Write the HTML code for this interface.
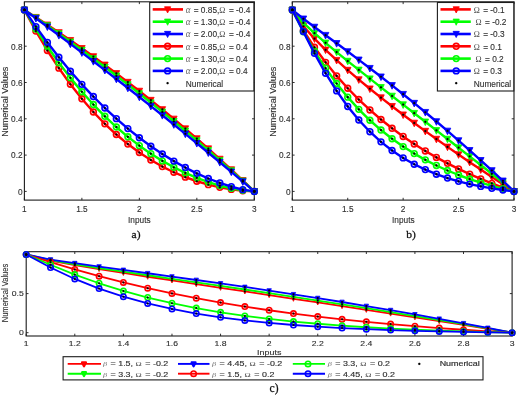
<!DOCTYPE html>
<html><head><meta charset="utf-8"><title>Figure</title>
<style>html,body{margin:0;padding:0;background:#fff}svg{display:block}</style></head>
<body>
<svg width="520" height="396" viewBox="0 0 520 396" font-family="'Liberation Sans',Arial,sans-serif" fill="#303030" stroke="#303030" stroke-width="0.12">
<rect width="520" height="396" fill="#fff" stroke="none"/>
<defs><filter id="soft" x="0" y="0" width="100%" height="100%" filterUnits="userSpaceOnUse" color-interpolation-filters="sRGB"><feGaussianBlur stdDeviation="0.38"/></filter></defs>
<g filter="url(#soft)">
<rect x="24.40" y="1.80" width="229.90" height="198.30" fill="#fff" stroke="#1c1c1c" stroke-width="1.1"/>
<path d="M24.40 200.10v-2.30M24.40 1.80v2.30" stroke="#1c1c1c" stroke-width="0.9"/>
<text transform="translate(24.40,211.70) scale(1.000,1.120)" font-size="8.30" text-anchor="middle">1</text>
<path d="M81.88 200.10v-2.30M81.88 1.80v2.30" stroke="#1c1c1c" stroke-width="0.9"/>
<text transform="translate(81.88,211.70) scale(1.000,1.120)" font-size="8.30" text-anchor="middle">1.5</text>
<path d="M139.35 200.10v-2.30M139.35 1.80v2.30" stroke="#1c1c1c" stroke-width="0.9"/>
<text transform="translate(139.35,211.70) scale(1.000,1.120)" font-size="8.30" text-anchor="middle">2</text>
<path d="M196.83 200.10v-2.30M196.83 1.80v2.30" stroke="#1c1c1c" stroke-width="0.9"/>
<text transform="translate(196.83,211.70) scale(1.000,1.120)" font-size="8.30" text-anchor="middle">2.5</text>
<path d="M254.30 200.10v-2.30M254.30 1.80v2.30" stroke="#1c1c1c" stroke-width="0.9"/>
<text transform="translate(254.30,211.70) scale(1.000,1.120)" font-size="8.30" text-anchor="middle">3</text>
<path d="M24.40 191.40h2.30M254.30 191.40h-2.30" stroke="#1c1c1c" stroke-width="0.9"/>
<text transform="translate(22.60,194.70) scale(1.000,1.120)" font-size="8.30" text-anchor="end">0</text>
<path d="M24.40 155.10h2.30M254.30 155.10h-2.30" stroke="#1c1c1c" stroke-width="0.9"/>
<text transform="translate(22.60,158.40) scale(1.000,1.120)" font-size="8.30" text-anchor="end">0.2</text>
<path d="M24.40 118.80h2.30M254.30 118.80h-2.30" stroke="#1c1c1c" stroke-width="0.9"/>
<text transform="translate(22.60,122.10) scale(1.000,1.120)" font-size="8.30" text-anchor="end">0.4</text>
<path d="M24.40 82.50h2.30M254.30 82.50h-2.30" stroke="#1c1c1c" stroke-width="0.9"/>
<text transform="translate(22.60,85.80) scale(1.000,1.120)" font-size="8.30" text-anchor="end">0.6</text>
<path d="M24.40 46.20h2.30M254.30 46.20h-2.30" stroke="#1c1c1c" stroke-width="0.9"/>
<text transform="translate(22.60,49.50) scale(1.000,1.120)" font-size="8.30" text-anchor="end">0.8</text>
<polyline fill="none" stroke="#ff0000" stroke-width="2.40" stroke-linejoin="round" points="24.40,9.90 35.89,17.26 47.39,24.78 58.88,32.45 70.38,40.30 81.88,48.31 93.37,56.49 104.87,64.85 116.36,73.39 127.85,82.12 139.35,91.03 150.84,100.13 162.34,109.43 173.84,118.93 185.33,128.64 196.83,138.55 208.32,148.67 219.81,159.02 231.31,169.58 242.81,180.37 254.30,191.40"/>
<path d="M21.10 7.10L27.70 7.10L24.40 13.70Z" fill="#ff0000" stroke="#ff0000" stroke-width="0.8" stroke-linejoin="round"/>
<path d="M32.59 14.45L39.19 14.45L35.89 21.05Z" fill="#ff0000" stroke="#ff0000" stroke-width="0.8" stroke-linejoin="round"/>
<path d="M44.09 21.97L50.69 21.97L47.39 28.57Z" fill="#ff0000" stroke="#ff0000" stroke-width="0.8" stroke-linejoin="round"/>
<path d="M55.59 29.65L62.18 29.65L58.88 36.25Z" fill="#ff0000" stroke="#ff0000" stroke-width="0.8" stroke-linejoin="round"/>
<path d="M67.08 37.49L73.68 37.49L70.38 44.09Z" fill="#ff0000" stroke="#ff0000" stroke-width="0.8" stroke-linejoin="round"/>
<path d="M78.58 45.50L85.17 45.50L81.88 52.10Z" fill="#ff0000" stroke="#ff0000" stroke-width="0.8" stroke-linejoin="round"/>
<path d="M90.07 53.69L96.67 53.69L93.37 60.29Z" fill="#ff0000" stroke="#ff0000" stroke-width="0.8" stroke-linejoin="round"/>
<path d="M101.57 62.05L108.17 62.05L104.87 68.65Z" fill="#ff0000" stroke="#ff0000" stroke-width="0.8" stroke-linejoin="round"/>
<path d="M113.06 70.59L119.66 70.59L116.36 77.19Z" fill="#ff0000" stroke="#ff0000" stroke-width="0.8" stroke-linejoin="round"/>
<path d="M124.55 79.31L131.16 79.31L127.85 85.91Z" fill="#ff0000" stroke="#ff0000" stroke-width="0.8" stroke-linejoin="round"/>
<path d="M136.05 88.23L142.65 88.23L139.35 94.83Z" fill="#ff0000" stroke="#ff0000" stroke-width="0.8" stroke-linejoin="round"/>
<path d="M147.54 97.33L154.15 97.33L150.84 103.93Z" fill="#ff0000" stroke="#ff0000" stroke-width="0.8" stroke-linejoin="round"/>
<path d="M159.04 106.63L165.64 106.63L162.34 113.23Z" fill="#ff0000" stroke="#ff0000" stroke-width="0.8" stroke-linejoin="round"/>
<path d="M170.53 116.13L177.14 116.13L173.84 122.73Z" fill="#ff0000" stroke="#ff0000" stroke-width="0.8" stroke-linejoin="round"/>
<path d="M182.03 125.83L188.63 125.83L185.33 132.43Z" fill="#ff0000" stroke="#ff0000" stroke-width="0.8" stroke-linejoin="round"/>
<path d="M193.53 135.74L200.13 135.74L196.83 142.34Z" fill="#ff0000" stroke="#ff0000" stroke-width="0.8" stroke-linejoin="round"/>
<path d="M205.02 145.87L211.62 145.87L208.32 152.47Z" fill="#ff0000" stroke="#ff0000" stroke-width="0.8" stroke-linejoin="round"/>
<path d="M216.51 156.21L223.12 156.21L219.81 162.81Z" fill="#ff0000" stroke="#ff0000" stroke-width="0.8" stroke-linejoin="round"/>
<path d="M228.01 166.78L234.61 166.78L231.31 173.38Z" fill="#ff0000" stroke="#ff0000" stroke-width="0.8" stroke-linejoin="round"/>
<path d="M239.50 177.57L246.11 177.57L242.81 184.17Z" fill="#ff0000" stroke="#ff0000" stroke-width="0.8" stroke-linejoin="round"/>
<path d="M251.00 188.59L257.60 188.59L254.30 195.19Z" fill="#ff0000" stroke="#ff0000" stroke-width="0.8" stroke-linejoin="round"/>
<polyline fill="none" stroke="#00ff00" stroke-width="2.40" stroke-linejoin="round" points="24.40,9.90 35.89,17.69 47.39,25.60 58.88,33.64 70.38,41.81 81.88,50.10 93.37,58.53 104.87,67.08 116.36,75.78 127.85,84.60 139.35,93.57 150.84,102.68 162.34,111.93 173.84,121.33 185.33,130.88 196.83,140.58 208.32,150.43 219.81,160.43 231.31,170.59 242.81,180.91 254.30,191.40"/>
<path d="M21.10 7.10L27.70 7.10L24.40 13.70Z" fill="#00ff00" stroke="#00ff00" stroke-width="0.8" stroke-linejoin="round"/>
<path d="M32.59 14.89L39.19 14.89L35.89 21.49Z" fill="#00ff00" stroke="#00ff00" stroke-width="0.8" stroke-linejoin="round"/>
<path d="M44.09 22.80L50.69 22.80L47.39 29.40Z" fill="#00ff00" stroke="#00ff00" stroke-width="0.8" stroke-linejoin="round"/>
<path d="M55.59 30.84L62.18 30.84L58.88 37.44Z" fill="#00ff00" stroke="#00ff00" stroke-width="0.8" stroke-linejoin="round"/>
<path d="M67.08 39.00L73.68 39.00L70.38 45.60Z" fill="#00ff00" stroke="#00ff00" stroke-width="0.8" stroke-linejoin="round"/>
<path d="M78.58 47.30L85.17 47.30L81.88 53.90Z" fill="#00ff00" stroke="#00ff00" stroke-width="0.8" stroke-linejoin="round"/>
<path d="M90.07 55.72L96.67 55.72L93.37 62.32Z" fill="#00ff00" stroke="#00ff00" stroke-width="0.8" stroke-linejoin="round"/>
<path d="M101.57 64.28L108.17 64.28L104.87 70.88Z" fill="#00ff00" stroke="#00ff00" stroke-width="0.8" stroke-linejoin="round"/>
<path d="M113.06 72.97L119.66 72.97L116.36 79.57Z" fill="#00ff00" stroke="#00ff00" stroke-width="0.8" stroke-linejoin="round"/>
<path d="M124.55 81.80L131.16 81.80L127.85 88.40Z" fill="#00ff00" stroke="#00ff00" stroke-width="0.8" stroke-linejoin="round"/>
<path d="M136.05 90.77L142.65 90.77L139.35 97.37Z" fill="#00ff00" stroke="#00ff00" stroke-width="0.8" stroke-linejoin="round"/>
<path d="M147.54 99.88L154.15 99.88L150.84 106.48Z" fill="#00ff00" stroke="#00ff00" stroke-width="0.8" stroke-linejoin="round"/>
<path d="M159.04 109.13L165.64 109.13L162.34 115.73Z" fill="#00ff00" stroke="#00ff00" stroke-width="0.8" stroke-linejoin="round"/>
<path d="M170.53 118.53L177.14 118.53L173.84 125.13Z" fill="#00ff00" stroke="#00ff00" stroke-width="0.8" stroke-linejoin="round"/>
<path d="M182.03 128.07L188.63 128.07L185.33 134.67Z" fill="#00ff00" stroke="#00ff00" stroke-width="0.8" stroke-linejoin="round"/>
<path d="M193.53 137.77L200.13 137.77L196.83 144.37Z" fill="#00ff00" stroke="#00ff00" stroke-width="0.8" stroke-linejoin="round"/>
<path d="M205.02 147.62L211.62 147.62L208.32 154.22Z" fill="#00ff00" stroke="#00ff00" stroke-width="0.8" stroke-linejoin="round"/>
<path d="M216.51 157.63L223.12 157.63L219.81 164.23Z" fill="#00ff00" stroke="#00ff00" stroke-width="0.8" stroke-linejoin="round"/>
<path d="M228.01 167.79L234.61 167.79L231.31 174.39Z" fill="#00ff00" stroke="#00ff00" stroke-width="0.8" stroke-linejoin="round"/>
<path d="M239.50 178.11L246.11 178.11L242.81 184.71Z" fill="#00ff00" stroke="#00ff00" stroke-width="0.8" stroke-linejoin="round"/>
<path d="M251.00 188.59L257.60 188.59L254.30 195.19Z" fill="#00ff00" stroke="#00ff00" stroke-width="0.8" stroke-linejoin="round"/>
<polyline fill="none" stroke="#0000ff" stroke-width="2.40" stroke-linejoin="round" points="24.40,9.90 35.89,18.30 47.39,26.77 58.88,35.31 70.38,43.91 81.88,52.59 93.37,61.33 104.87,70.15 116.36,79.04 127.85,87.99 139.35,97.02 150.84,106.12 162.34,115.30 173.84,124.55 185.33,133.87 196.83,143.27 208.32,152.74 219.81,162.29 231.31,171.92 242.81,181.62 254.30,191.40"/>
<path d="M21.10 7.10L27.70 7.10L24.40 13.70Z" fill="#0000ff" stroke="#0000ff" stroke-width="0.8" stroke-linejoin="round"/>
<path d="M32.59 15.50L39.19 15.50L35.89 22.10Z" fill="#0000ff" stroke="#0000ff" stroke-width="0.8" stroke-linejoin="round"/>
<path d="M44.09 23.97L50.69 23.97L47.39 30.57Z" fill="#0000ff" stroke="#0000ff" stroke-width="0.8" stroke-linejoin="round"/>
<path d="M55.59 32.50L62.18 32.50L58.88 39.10Z" fill="#0000ff" stroke="#0000ff" stroke-width="0.8" stroke-linejoin="round"/>
<path d="M67.08 41.11L73.68 41.11L70.38 47.71Z" fill="#0000ff" stroke="#0000ff" stroke-width="0.8" stroke-linejoin="round"/>
<path d="M78.58 49.78L85.17 49.78L81.88 56.38Z" fill="#0000ff" stroke="#0000ff" stroke-width="0.8" stroke-linejoin="round"/>
<path d="M90.07 58.53L96.67 58.53L93.37 65.13Z" fill="#0000ff" stroke="#0000ff" stroke-width="0.8" stroke-linejoin="round"/>
<path d="M101.57 67.34L108.17 67.34L104.87 73.94Z" fill="#0000ff" stroke="#0000ff" stroke-width="0.8" stroke-linejoin="round"/>
<path d="M113.06 76.23L119.66 76.23L116.36 82.83Z" fill="#0000ff" stroke="#0000ff" stroke-width="0.8" stroke-linejoin="round"/>
<path d="M124.55 85.19L131.16 85.19L127.85 91.79Z" fill="#0000ff" stroke="#0000ff" stroke-width="0.8" stroke-linejoin="round"/>
<path d="M136.05 94.22L142.65 94.22L139.35 100.82Z" fill="#0000ff" stroke="#0000ff" stroke-width="0.8" stroke-linejoin="round"/>
<path d="M147.54 103.32L154.15 103.32L150.84 109.92Z" fill="#0000ff" stroke="#0000ff" stroke-width="0.8" stroke-linejoin="round"/>
<path d="M159.04 112.49L165.64 112.49L162.34 119.09Z" fill="#0000ff" stroke="#0000ff" stroke-width="0.8" stroke-linejoin="round"/>
<path d="M170.53 121.74L177.14 121.74L173.84 128.34Z" fill="#0000ff" stroke="#0000ff" stroke-width="0.8" stroke-linejoin="round"/>
<path d="M182.03 131.06L188.63 131.06L185.33 137.66Z" fill="#0000ff" stroke="#0000ff" stroke-width="0.8" stroke-linejoin="round"/>
<path d="M193.53 140.46L200.13 140.46L196.83 147.06Z" fill="#0000ff" stroke="#0000ff" stroke-width="0.8" stroke-linejoin="round"/>
<path d="M205.02 149.94L211.62 149.94L208.32 156.54Z" fill="#0000ff" stroke="#0000ff" stroke-width="0.8" stroke-linejoin="round"/>
<path d="M216.51 159.48L223.12 159.48L219.81 166.08Z" fill="#0000ff" stroke="#0000ff" stroke-width="0.8" stroke-linejoin="round"/>
<path d="M228.01 169.11L234.61 169.11L231.31 175.71Z" fill="#0000ff" stroke="#0000ff" stroke-width="0.8" stroke-linejoin="round"/>
<path d="M239.50 178.81L246.11 178.81L242.81 185.41Z" fill="#0000ff" stroke="#0000ff" stroke-width="0.8" stroke-linejoin="round"/>
<path d="M251.00 188.59L257.60 188.59L254.30 195.19Z" fill="#0000ff" stroke="#0000ff" stroke-width="0.8" stroke-linejoin="round"/>
<polyline fill="none" stroke="#ff0000" stroke-width="2.40" stroke-linejoin="round" points="24.40,9.90 35.89,31.11 47.39,50.49 58.88,68.16 70.38,84.23 81.88,98.81 93.37,111.99 104.87,123.86 116.36,134.52 127.85,144.05 139.35,152.52 150.84,160.00 162.34,166.56 173.84,172.25 185.33,177.13 196.83,181.25 208.32,184.65 219.81,187.37 231.31,189.42 242.81,190.79 254.30,191.40"/>
<circle cx="24.40" cy="9.90" r="2.90" fill="none" stroke="#ff0000" stroke-width="1.60"/>
<circle cx="35.89" cy="31.11" r="2.90" fill="none" stroke="#ff0000" stroke-width="1.60"/>
<circle cx="47.39" cy="50.49" r="2.90" fill="none" stroke="#ff0000" stroke-width="1.60"/>
<circle cx="58.88" cy="68.16" r="2.90" fill="none" stroke="#ff0000" stroke-width="1.60"/>
<circle cx="70.38" cy="84.23" r="2.90" fill="none" stroke="#ff0000" stroke-width="1.60"/>
<circle cx="81.88" cy="98.81" r="2.90" fill="none" stroke="#ff0000" stroke-width="1.60"/>
<circle cx="93.37" cy="111.99" r="2.90" fill="none" stroke="#ff0000" stroke-width="1.60"/>
<circle cx="104.87" cy="123.86" r="2.90" fill="none" stroke="#ff0000" stroke-width="1.60"/>
<circle cx="116.36" cy="134.52" r="2.90" fill="none" stroke="#ff0000" stroke-width="1.60"/>
<circle cx="127.85" cy="144.05" r="2.90" fill="none" stroke="#ff0000" stroke-width="1.60"/>
<circle cx="139.35" cy="152.52" r="2.90" fill="none" stroke="#ff0000" stroke-width="1.60"/>
<circle cx="150.84" cy="160.00" r="2.90" fill="none" stroke="#ff0000" stroke-width="1.60"/>
<circle cx="162.34" cy="166.56" r="2.90" fill="none" stroke="#ff0000" stroke-width="1.60"/>
<circle cx="173.84" cy="172.25" r="2.90" fill="none" stroke="#ff0000" stroke-width="1.60"/>
<circle cx="185.33" cy="177.13" r="2.90" fill="none" stroke="#ff0000" stroke-width="1.60"/>
<circle cx="196.83" cy="181.25" r="2.90" fill="none" stroke="#ff0000" stroke-width="1.60"/>
<circle cx="208.32" cy="184.65" r="2.90" fill="none" stroke="#ff0000" stroke-width="1.60"/>
<circle cx="219.81" cy="187.37" r="2.90" fill="none" stroke="#ff0000" stroke-width="1.60"/>
<circle cx="231.31" cy="189.42" r="2.90" fill="none" stroke="#ff0000" stroke-width="1.60"/>
<circle cx="242.81" cy="190.79" r="2.90" fill="none" stroke="#ff0000" stroke-width="1.60"/>
<circle cx="254.30" cy="191.40" r="2.90" fill="none" stroke="#ff0000" stroke-width="1.60"/>
<polyline fill="none" stroke="#00ff00" stroke-width="2.40" stroke-linejoin="round" points="24.40,9.90 35.89,28.88 47.39,46.49 58.88,62.80 70.38,77.87 81.88,91.77 93.37,104.56 104.87,116.29 116.36,127.02 127.85,136.80 139.35,145.67 150.84,153.69 162.34,160.88 173.84,167.28 185.33,172.93 196.83,177.85 208.32,182.05 219.81,185.56 231.31,188.35 242.81,190.37 254.30,191.40"/>
<circle cx="24.40" cy="9.90" r="2.90" fill="none" stroke="#00ff00" stroke-width="1.60"/>
<circle cx="35.89" cy="28.88" r="2.90" fill="none" stroke="#00ff00" stroke-width="1.60"/>
<circle cx="47.39" cy="46.49" r="2.90" fill="none" stroke="#00ff00" stroke-width="1.60"/>
<circle cx="58.88" cy="62.80" r="2.90" fill="none" stroke="#00ff00" stroke-width="1.60"/>
<circle cx="70.38" cy="77.87" r="2.90" fill="none" stroke="#00ff00" stroke-width="1.60"/>
<circle cx="81.88" cy="91.77" r="2.90" fill="none" stroke="#00ff00" stroke-width="1.60"/>
<circle cx="93.37" cy="104.56" r="2.90" fill="none" stroke="#00ff00" stroke-width="1.60"/>
<circle cx="104.87" cy="116.29" r="2.90" fill="none" stroke="#00ff00" stroke-width="1.60"/>
<circle cx="116.36" cy="127.02" r="2.90" fill="none" stroke="#00ff00" stroke-width="1.60"/>
<circle cx="127.85" cy="136.80" r="2.90" fill="none" stroke="#00ff00" stroke-width="1.60"/>
<circle cx="139.35" cy="145.67" r="2.90" fill="none" stroke="#00ff00" stroke-width="1.60"/>
<circle cx="150.84" cy="153.69" r="2.90" fill="none" stroke="#00ff00" stroke-width="1.60"/>
<circle cx="162.34" cy="160.88" r="2.90" fill="none" stroke="#00ff00" stroke-width="1.60"/>
<circle cx="173.84" cy="167.28" r="2.90" fill="none" stroke="#00ff00" stroke-width="1.60"/>
<circle cx="185.33" cy="172.93" r="2.90" fill="none" stroke="#00ff00" stroke-width="1.60"/>
<circle cx="196.83" cy="177.85" r="2.90" fill="none" stroke="#00ff00" stroke-width="1.60"/>
<circle cx="208.32" cy="182.05" r="2.90" fill="none" stroke="#00ff00" stroke-width="1.60"/>
<circle cx="219.81" cy="185.56" r="2.90" fill="none" stroke="#00ff00" stroke-width="1.60"/>
<circle cx="231.31" cy="188.35" r="2.90" fill="none" stroke="#00ff00" stroke-width="1.60"/>
<circle cx="242.81" cy="190.37" r="2.90" fill="none" stroke="#00ff00" stroke-width="1.60"/>
<circle cx="254.30" cy="191.40" r="2.90" fill="none" stroke="#00ff00" stroke-width="1.60"/>
<polyline fill="none" stroke="#0000ff" stroke-width="2.40" stroke-linejoin="round" points="24.40,9.90 35.89,26.66 47.39,42.45 58.88,57.30 70.38,71.25 81.88,84.33 93.37,96.57 104.87,108.01 116.36,118.67 127.85,128.58 139.35,137.76 150.84,146.23 162.34,154.01 173.84,161.12 185.33,167.57 196.83,173.37 208.32,178.50 219.81,182.97 231.31,186.72 242.81,189.65 254.30,191.40"/>
<circle cx="24.40" cy="9.90" r="2.90" fill="none" stroke="#0000ff" stroke-width="1.60"/>
<circle cx="35.89" cy="26.66" r="2.90" fill="none" stroke="#0000ff" stroke-width="1.60"/>
<circle cx="47.39" cy="42.45" r="2.90" fill="none" stroke="#0000ff" stroke-width="1.60"/>
<circle cx="58.88" cy="57.30" r="2.90" fill="none" stroke="#0000ff" stroke-width="1.60"/>
<circle cx="70.38" cy="71.25" r="2.90" fill="none" stroke="#0000ff" stroke-width="1.60"/>
<circle cx="81.88" cy="84.33" r="2.90" fill="none" stroke="#0000ff" stroke-width="1.60"/>
<circle cx="93.37" cy="96.57" r="2.90" fill="none" stroke="#0000ff" stroke-width="1.60"/>
<circle cx="104.87" cy="108.01" r="2.90" fill="none" stroke="#0000ff" stroke-width="1.60"/>
<circle cx="116.36" cy="118.67" r="2.90" fill="none" stroke="#0000ff" stroke-width="1.60"/>
<circle cx="127.85" cy="128.58" r="2.90" fill="none" stroke="#0000ff" stroke-width="1.60"/>
<circle cx="139.35" cy="137.76" r="2.90" fill="none" stroke="#0000ff" stroke-width="1.60"/>
<circle cx="150.84" cy="146.23" r="2.90" fill="none" stroke="#0000ff" stroke-width="1.60"/>
<circle cx="162.34" cy="154.01" r="2.90" fill="none" stroke="#0000ff" stroke-width="1.60"/>
<circle cx="173.84" cy="161.12" r="2.90" fill="none" stroke="#0000ff" stroke-width="1.60"/>
<circle cx="185.33" cy="167.57" r="2.90" fill="none" stroke="#0000ff" stroke-width="1.60"/>
<circle cx="196.83" cy="173.37" r="2.90" fill="none" stroke="#0000ff" stroke-width="1.60"/>
<circle cx="208.32" cy="178.50" r="2.90" fill="none" stroke="#0000ff" stroke-width="1.60"/>
<circle cx="219.81" cy="182.97" r="2.90" fill="none" stroke="#0000ff" stroke-width="1.60"/>
<circle cx="231.31" cy="186.72" r="2.90" fill="none" stroke="#0000ff" stroke-width="1.60"/>
<circle cx="242.81" cy="189.65" r="2.90" fill="none" stroke="#0000ff" stroke-width="1.60"/>
<circle cx="254.30" cy="191.40" r="2.90" fill="none" stroke="#0000ff" stroke-width="1.60"/>
<circle cx="24.40" cy="9.90" r="1.10" fill="#000"/>
<circle cx="35.89" cy="17.26" r="1.10" fill="#000"/>
<circle cx="47.39" cy="24.78" r="1.10" fill="#000"/>
<circle cx="58.88" cy="32.45" r="1.10" fill="#000"/>
<circle cx="70.38" cy="40.30" r="1.10" fill="#000"/>
<circle cx="81.88" cy="48.31" r="1.10" fill="#000"/>
<circle cx="93.37" cy="56.49" r="1.10" fill="#000"/>
<circle cx="104.87" cy="64.85" r="1.10" fill="#000"/>
<circle cx="116.36" cy="73.39" r="1.10" fill="#000"/>
<circle cx="127.85" cy="82.12" r="1.10" fill="#000"/>
<circle cx="139.35" cy="91.03" r="1.10" fill="#000"/>
<circle cx="150.84" cy="100.13" r="1.10" fill="#000"/>
<circle cx="162.34" cy="109.43" r="1.10" fill="#000"/>
<circle cx="173.84" cy="118.93" r="1.10" fill="#000"/>
<circle cx="185.33" cy="128.64" r="1.10" fill="#000"/>
<circle cx="196.83" cy="138.55" r="1.10" fill="#000"/>
<circle cx="208.32" cy="148.67" r="1.10" fill="#000"/>
<circle cx="219.81" cy="159.02" r="1.10" fill="#000"/>
<circle cx="231.31" cy="169.58" r="1.10" fill="#000"/>
<circle cx="242.81" cy="180.37" r="1.10" fill="#000"/>
<circle cx="254.30" cy="191.40" r="1.10" fill="#000"/>
<circle cx="24.40" cy="9.90" r="1.10" fill="#000"/>
<circle cx="35.89" cy="17.69" r="1.10" fill="#000"/>
<circle cx="47.39" cy="25.60" r="1.10" fill="#000"/>
<circle cx="58.88" cy="33.64" r="1.10" fill="#000"/>
<circle cx="70.38" cy="41.81" r="1.10" fill="#000"/>
<circle cx="81.88" cy="50.10" r="1.10" fill="#000"/>
<circle cx="93.37" cy="58.53" r="1.10" fill="#000"/>
<circle cx="104.87" cy="67.08" r="1.10" fill="#000"/>
<circle cx="116.36" cy="75.78" r="1.10" fill="#000"/>
<circle cx="127.85" cy="84.60" r="1.10" fill="#000"/>
<circle cx="139.35" cy="93.57" r="1.10" fill="#000"/>
<circle cx="150.84" cy="102.68" r="1.10" fill="#000"/>
<circle cx="162.34" cy="111.93" r="1.10" fill="#000"/>
<circle cx="173.84" cy="121.33" r="1.10" fill="#000"/>
<circle cx="185.33" cy="130.88" r="1.10" fill="#000"/>
<circle cx="196.83" cy="140.58" r="1.10" fill="#000"/>
<circle cx="208.32" cy="150.43" r="1.10" fill="#000"/>
<circle cx="219.81" cy="160.43" r="1.10" fill="#000"/>
<circle cx="231.31" cy="170.59" r="1.10" fill="#000"/>
<circle cx="242.81" cy="180.91" r="1.10" fill="#000"/>
<circle cx="254.30" cy="191.40" r="1.10" fill="#000"/>
<circle cx="24.40" cy="9.90" r="1.10" fill="#000"/>
<circle cx="35.89" cy="18.30" r="1.10" fill="#000"/>
<circle cx="47.39" cy="26.77" r="1.10" fill="#000"/>
<circle cx="58.88" cy="35.31" r="1.10" fill="#000"/>
<circle cx="70.38" cy="43.91" r="1.10" fill="#000"/>
<circle cx="81.88" cy="52.59" r="1.10" fill="#000"/>
<circle cx="93.37" cy="61.33" r="1.10" fill="#000"/>
<circle cx="104.87" cy="70.15" r="1.10" fill="#000"/>
<circle cx="116.36" cy="79.04" r="1.10" fill="#000"/>
<circle cx="127.85" cy="87.99" r="1.10" fill="#000"/>
<circle cx="139.35" cy="97.02" r="1.10" fill="#000"/>
<circle cx="150.84" cy="106.12" r="1.10" fill="#000"/>
<circle cx="162.34" cy="115.30" r="1.10" fill="#000"/>
<circle cx="173.84" cy="124.55" r="1.10" fill="#000"/>
<circle cx="185.33" cy="133.87" r="1.10" fill="#000"/>
<circle cx="196.83" cy="143.27" r="1.10" fill="#000"/>
<circle cx="208.32" cy="152.74" r="1.10" fill="#000"/>
<circle cx="219.81" cy="162.29" r="1.10" fill="#000"/>
<circle cx="231.31" cy="171.92" r="1.10" fill="#000"/>
<circle cx="242.81" cy="181.62" r="1.10" fill="#000"/>
<circle cx="254.30" cy="191.40" r="1.10" fill="#000"/>
<circle cx="24.40" cy="9.90" r="1.10" fill="#000"/>
<circle cx="35.89" cy="31.11" r="1.10" fill="#000"/>
<circle cx="47.39" cy="50.49" r="1.10" fill="#000"/>
<circle cx="58.88" cy="68.16" r="1.10" fill="#000"/>
<circle cx="70.38" cy="84.23" r="1.10" fill="#000"/>
<circle cx="81.88" cy="98.81" r="1.10" fill="#000"/>
<circle cx="93.37" cy="111.99" r="1.10" fill="#000"/>
<circle cx="104.87" cy="123.86" r="1.10" fill="#000"/>
<circle cx="116.36" cy="134.52" r="1.10" fill="#000"/>
<circle cx="127.85" cy="144.05" r="1.10" fill="#000"/>
<circle cx="139.35" cy="152.52" r="1.10" fill="#000"/>
<circle cx="150.84" cy="160.00" r="1.10" fill="#000"/>
<circle cx="162.34" cy="166.56" r="1.10" fill="#000"/>
<circle cx="173.84" cy="172.25" r="1.10" fill="#000"/>
<circle cx="185.33" cy="177.13" r="1.10" fill="#000"/>
<circle cx="196.83" cy="181.25" r="1.10" fill="#000"/>
<circle cx="208.32" cy="184.65" r="1.10" fill="#000"/>
<circle cx="219.81" cy="187.37" r="1.10" fill="#000"/>
<circle cx="231.31" cy="189.42" r="1.10" fill="#000"/>
<circle cx="242.81" cy="190.79" r="1.10" fill="#000"/>
<circle cx="254.30" cy="191.40" r="1.10" fill="#000"/>
<circle cx="24.40" cy="9.90" r="1.10" fill="#000"/>
<circle cx="35.89" cy="28.88" r="1.10" fill="#000"/>
<circle cx="47.39" cy="46.49" r="1.10" fill="#000"/>
<circle cx="58.88" cy="62.80" r="1.10" fill="#000"/>
<circle cx="70.38" cy="77.87" r="1.10" fill="#000"/>
<circle cx="81.88" cy="91.77" r="1.10" fill="#000"/>
<circle cx="93.37" cy="104.56" r="1.10" fill="#000"/>
<circle cx="104.87" cy="116.29" r="1.10" fill="#000"/>
<circle cx="116.36" cy="127.02" r="1.10" fill="#000"/>
<circle cx="127.85" cy="136.80" r="1.10" fill="#000"/>
<circle cx="139.35" cy="145.67" r="1.10" fill="#000"/>
<circle cx="150.84" cy="153.69" r="1.10" fill="#000"/>
<circle cx="162.34" cy="160.88" r="1.10" fill="#000"/>
<circle cx="173.84" cy="167.28" r="1.10" fill="#000"/>
<circle cx="185.33" cy="172.93" r="1.10" fill="#000"/>
<circle cx="196.83" cy="177.85" r="1.10" fill="#000"/>
<circle cx="208.32" cy="182.05" r="1.10" fill="#000"/>
<circle cx="219.81" cy="185.56" r="1.10" fill="#000"/>
<circle cx="231.31" cy="188.35" r="1.10" fill="#000"/>
<circle cx="242.81" cy="190.37" r="1.10" fill="#000"/>
<circle cx="254.30" cy="191.40" r="1.10" fill="#000"/>
<circle cx="24.40" cy="9.90" r="1.10" fill="#000"/>
<circle cx="35.89" cy="26.66" r="1.10" fill="#000"/>
<circle cx="47.39" cy="42.45" r="1.10" fill="#000"/>
<circle cx="58.88" cy="57.30" r="1.10" fill="#000"/>
<circle cx="70.38" cy="71.25" r="1.10" fill="#000"/>
<circle cx="81.88" cy="84.33" r="1.10" fill="#000"/>
<circle cx="93.37" cy="96.57" r="1.10" fill="#000"/>
<circle cx="104.87" cy="108.01" r="1.10" fill="#000"/>
<circle cx="116.36" cy="118.67" r="1.10" fill="#000"/>
<circle cx="127.85" cy="128.58" r="1.10" fill="#000"/>
<circle cx="139.35" cy="137.76" r="1.10" fill="#000"/>
<circle cx="150.84" cy="146.23" r="1.10" fill="#000"/>
<circle cx="162.34" cy="154.01" r="1.10" fill="#000"/>
<circle cx="173.84" cy="161.12" r="1.10" fill="#000"/>
<circle cx="185.33" cy="167.57" r="1.10" fill="#000"/>
<circle cx="196.83" cy="173.37" r="1.10" fill="#000"/>
<circle cx="208.32" cy="178.50" r="1.10" fill="#000"/>
<circle cx="219.81" cy="182.97" r="1.10" fill="#000"/>
<circle cx="231.31" cy="186.72" r="1.10" fill="#000"/>
<circle cx="242.81" cy="189.65" r="1.10" fill="#000"/>
<circle cx="254.30" cy="191.40" r="1.10" fill="#000"/>
<text transform="translate(139.30,223.00) scale(1.000,1.120)" font-size="8.30" text-anchor="middle">Inputs</text>
<text transform="translate(8.20,101.80) rotate(-90) scale(1.090,1.000)" font-size="8.30" text-anchor="middle">Numerical Values</text>
<rect x="149.7" y="2.5" width="104.2" height="88.5" fill="#fff" stroke="#1c1c1c" stroke-width="1.1"/>
<path d="M152.70 9.40H183.00" stroke="#ff0000" stroke-width="2.60"/><path d="M164.50 6.77L170.70 6.77L167.60 12.96Z" fill="#ff0000" stroke="#ff0000" stroke-width="0.8" stroke-linejoin="round"/>
<text transform="translate(185.80,12.70) scale(1.000,1.100)" font-size="8.30" text-anchor="start"><tspan font-family="'Liberation Serif','DejaVu Serif',serif" font-style="italic" font-size="9" fill="#666" stroke="none">α</tspan><tspan dx="0.9"> = 0.85,</tspan><tspan font-family="'Liberation Serif','DejaVu Serif',serif" font-size="8.2" fill="#444" stroke="none">Ω</tspan><tspan dx="1.2"> = -0.4</tspan></text>
<path d="M152.70 21.70H183.00" stroke="#00ff00" stroke-width="2.60"/><path d="M164.50 19.07L170.70 19.07L167.60 25.27Z" fill="#00ff00" stroke="#00ff00" stroke-width="0.8" stroke-linejoin="round"/>
<text transform="translate(185.80,25.00) scale(1.000,1.100)" font-size="8.30" text-anchor="start"><tspan font-family="'Liberation Serif','DejaVu Serif',serif" font-style="italic" font-size="9" fill="#666" stroke="none">α</tspan><tspan dx="0.9"> = 1.30,</tspan><tspan font-family="'Liberation Serif','DejaVu Serif',serif" font-size="8.2" fill="#444" stroke="none">Ω</tspan><tspan dx="1.2"> = -0.4</tspan></text>
<path d="M152.70 34.00H183.00" stroke="#0000ff" stroke-width="2.60"/><path d="M164.50 31.37L170.70 31.37L167.60 37.56Z" fill="#0000ff" stroke="#0000ff" stroke-width="0.8" stroke-linejoin="round"/>
<text transform="translate(185.80,37.30) scale(1.000,1.100)" font-size="8.30" text-anchor="start"><tspan font-family="'Liberation Serif','DejaVu Serif',serif" font-style="italic" font-size="9" fill="#666" stroke="none">α</tspan><tspan dx="0.9"> = 2.00,</tspan><tspan font-family="'Liberation Serif','DejaVu Serif',serif" font-size="8.2" fill="#444" stroke="none">Ω</tspan><tspan dx="1.2"> = -0.4</tspan></text>
<path d="M152.70 46.30H183.00" stroke="#ff0000" stroke-width="2.60"/><circle cx="167.60" cy="46.30" r="2.90" fill="none" stroke="#ff0000" stroke-width="1.60"/>
<text transform="translate(185.80,49.60) scale(1.000,1.100)" font-size="8.30" text-anchor="start"><tspan font-family="'Liberation Serif','DejaVu Serif',serif" font-style="italic" font-size="9" fill="#666" stroke="none">α</tspan><tspan dx="0.9"> = 0.85,</tspan><tspan font-family="'Liberation Serif','DejaVu Serif',serif" font-size="8.2" fill="#444" stroke="none">Ω</tspan><tspan dx="1.2"> = 0.4</tspan></text>
<path d="M152.70 58.60H183.00" stroke="#00ff00" stroke-width="2.60"/><circle cx="167.60" cy="58.60" r="2.90" fill="none" stroke="#00ff00" stroke-width="1.60"/>
<text transform="translate(185.80,61.90) scale(1.000,1.100)" font-size="8.30" text-anchor="start"><tspan font-family="'Liberation Serif','DejaVu Serif',serif" font-style="italic" font-size="9" fill="#666" stroke="none">α</tspan><tspan dx="0.9"> = 1.30,</tspan><tspan font-family="'Liberation Serif','DejaVu Serif',serif" font-size="8.2" fill="#444" stroke="none">Ω</tspan><tspan dx="1.2"> = 0.4</tspan></text>
<path d="M152.70 70.90H183.00" stroke="#0000ff" stroke-width="2.60"/><circle cx="167.60" cy="70.90" r="2.90" fill="none" stroke="#0000ff" stroke-width="1.60"/>
<text transform="translate(185.80,74.20) scale(1.000,1.100)" font-size="8.30" text-anchor="start"><tspan font-family="'Liberation Serif','DejaVu Serif',serif" font-style="italic" font-size="9" fill="#666" stroke="none">α</tspan><tspan dx="0.9"> = 2.00,</tspan><tspan font-family="'Liberation Serif','DejaVu Serif',serif" font-size="8.2" fill="#444" stroke="none">Ω</tspan><tspan dx="1.2"> = 0.4</tspan></text>
<circle cx="167.60" cy="83.20" r="1.15" fill="#000"/>
<text transform="translate(185.80,86.50) scale(1.000,1.100)" font-size="8.30" text-anchor="start">Numerical</text>
<rect x="292.30" y="1.80" width="221.70" height="198.30" fill="#fff" stroke="#1c1c1c" stroke-width="1.1"/>
<path d="M292.30 200.10v-2.30M292.30 1.80v2.30" stroke="#1c1c1c" stroke-width="0.9"/>
<text transform="translate(292.30,211.70) scale(1.000,1.120)" font-size="8.30" text-anchor="middle">1</text>
<path d="M347.73 200.10v-2.30M347.73 1.80v2.30" stroke="#1c1c1c" stroke-width="0.9"/>
<text transform="translate(347.73,211.70) scale(1.000,1.120)" font-size="8.30" text-anchor="middle">1.5</text>
<path d="M403.15 200.10v-2.30M403.15 1.80v2.30" stroke="#1c1c1c" stroke-width="0.9"/>
<text transform="translate(403.15,211.70) scale(1.000,1.120)" font-size="8.30" text-anchor="middle">2</text>
<path d="M458.57 200.10v-2.30M458.57 1.80v2.30" stroke="#1c1c1c" stroke-width="0.9"/>
<text transform="translate(458.57,211.70) scale(1.000,1.120)" font-size="8.30" text-anchor="middle">2.5</text>
<path d="M514.00 200.10v-2.30M514.00 1.80v2.30" stroke="#1c1c1c" stroke-width="0.9"/>
<text transform="translate(514.00,211.70) scale(1.000,1.120)" font-size="8.30" text-anchor="middle">3</text>
<path d="M292.30 191.40h2.30M514.00 191.40h-2.30" stroke="#1c1c1c" stroke-width="0.9"/>
<text transform="translate(290.50,194.70) scale(1.000,1.120)" font-size="8.30" text-anchor="end">0</text>
<path d="M292.30 155.10h2.30M514.00 155.10h-2.30" stroke="#1c1c1c" stroke-width="0.9"/>
<text transform="translate(290.50,158.40) scale(1.000,1.120)" font-size="8.30" text-anchor="end">0.2</text>
<path d="M292.30 118.80h2.30M514.00 118.80h-2.30" stroke="#1c1c1c" stroke-width="0.9"/>
<text transform="translate(290.50,122.10) scale(1.000,1.120)" font-size="8.30" text-anchor="end">0.4</text>
<path d="M292.30 82.50h2.30M514.00 82.50h-2.30" stroke="#1c1c1c" stroke-width="0.9"/>
<text transform="translate(290.50,85.80) scale(1.000,1.120)" font-size="8.30" text-anchor="end">0.6</text>
<path d="M292.30 46.20h2.30M514.00 46.20h-2.30" stroke="#1c1c1c" stroke-width="0.9"/>
<text transform="translate(290.50,49.50) scale(1.000,1.120)" font-size="8.30" text-anchor="end">0.8</text>
<polyline fill="none" stroke="#ff0000" stroke-width="2.40" stroke-linejoin="round" points="292.30,9.90 303.38,26.32 314.47,38.67 325.56,49.81 336.64,60.21 347.73,70.10 358.81,79.59 369.89,88.75 380.98,97.64 392.06,106.30 403.15,114.75 414.24,123.01 425.32,131.12 436.40,139.07 447.49,146.88 458.57,154.57 469.66,162.14 480.75,169.60 491.83,176.96 502.91,184.23 514.00,191.40"/>
<path d="M289.00 7.10L295.60 7.10L292.30 13.70Z" fill="#ff0000" stroke="#ff0000" stroke-width="0.8" stroke-linejoin="round"/>
<path d="M300.08 23.52L306.69 23.52L303.38 30.12Z" fill="#ff0000" stroke="#ff0000" stroke-width="0.8" stroke-linejoin="round"/>
<path d="M311.17 35.86L317.77 35.86L314.47 42.46Z" fill="#ff0000" stroke="#ff0000" stroke-width="0.8" stroke-linejoin="round"/>
<path d="M322.25 47.00L328.86 47.00L325.56 53.60Z" fill="#ff0000" stroke="#ff0000" stroke-width="0.8" stroke-linejoin="round"/>
<path d="M333.34 57.41L339.94 57.41L336.64 64.01Z" fill="#ff0000" stroke="#ff0000" stroke-width="0.8" stroke-linejoin="round"/>
<path d="M344.43 67.30L351.03 67.30L347.73 73.90Z" fill="#ff0000" stroke="#ff0000" stroke-width="0.8" stroke-linejoin="round"/>
<path d="M355.51 76.79L362.11 76.79L358.81 83.39Z" fill="#ff0000" stroke="#ff0000" stroke-width="0.8" stroke-linejoin="round"/>
<path d="M366.59 85.95L373.19 85.95L369.89 92.55Z" fill="#ff0000" stroke="#ff0000" stroke-width="0.8" stroke-linejoin="round"/>
<path d="M377.68 94.84L384.28 94.84L380.98 101.44Z" fill="#ff0000" stroke="#ff0000" stroke-width="0.8" stroke-linejoin="round"/>
<path d="M388.76 103.49L395.37 103.49L392.06 110.09Z" fill="#ff0000" stroke="#ff0000" stroke-width="0.8" stroke-linejoin="round"/>
<path d="M399.85 111.94L406.45 111.94L403.15 118.54Z" fill="#ff0000" stroke="#ff0000" stroke-width="0.8" stroke-linejoin="round"/>
<path d="M410.94 120.21L417.54 120.21L414.24 126.81Z" fill="#ff0000" stroke="#ff0000" stroke-width="0.8" stroke-linejoin="round"/>
<path d="M422.02 128.31L428.62 128.31L425.32 134.91Z" fill="#ff0000" stroke="#ff0000" stroke-width="0.8" stroke-linejoin="round"/>
<path d="M433.10 136.26L439.70 136.26L436.40 142.86Z" fill="#ff0000" stroke="#ff0000" stroke-width="0.8" stroke-linejoin="round"/>
<path d="M444.19 144.08L450.79 144.08L447.49 150.68Z" fill="#ff0000" stroke="#ff0000" stroke-width="0.8" stroke-linejoin="round"/>
<path d="M455.27 151.77L461.88 151.77L458.57 158.37Z" fill="#ff0000" stroke="#ff0000" stroke-width="0.8" stroke-linejoin="round"/>
<path d="M466.36 159.34L472.96 159.34L469.66 165.94Z" fill="#ff0000" stroke="#ff0000" stroke-width="0.8" stroke-linejoin="round"/>
<path d="M477.44 166.80L484.05 166.80L480.75 173.40Z" fill="#ff0000" stroke="#ff0000" stroke-width="0.8" stroke-linejoin="round"/>
<path d="M488.53 174.16L495.13 174.16L491.83 180.76Z" fill="#ff0000" stroke="#ff0000" stroke-width="0.8" stroke-linejoin="round"/>
<path d="M499.61 181.42L506.21 181.42L502.91 188.02Z" fill="#ff0000" stroke="#ff0000" stroke-width="0.8" stroke-linejoin="round"/>
<path d="M510.70 188.59L517.30 188.59L514.00 195.19Z" fill="#ff0000" stroke="#ff0000" stroke-width="0.8" stroke-linejoin="round"/>
<polyline fill="none" stroke="#00ff00" stroke-width="2.40" stroke-linejoin="round" points="292.30,9.90 303.38,22.91 314.47,33.21 325.56,42.83 336.64,52.06 347.73,61.07 358.81,69.93 369.89,78.68 380.98,87.36 392.06,96.00 403.15,104.61 414.24,113.21 425.32,121.81 436.40,130.41 447.49,139.03 458.57,147.68 469.66,156.35 480.75,165.05 491.83,173.79 502.91,182.57 514.00,191.40"/>
<path d="M289.00 7.10L295.60 7.10L292.30 13.70Z" fill="#00ff00" stroke="#00ff00" stroke-width="0.8" stroke-linejoin="round"/>
<path d="M300.08 20.10L306.69 20.10L303.38 26.70Z" fill="#00ff00" stroke="#00ff00" stroke-width="0.8" stroke-linejoin="round"/>
<path d="M311.17 30.41L317.77 30.41L314.47 37.01Z" fill="#00ff00" stroke="#00ff00" stroke-width="0.8" stroke-linejoin="round"/>
<path d="M322.25 40.02L328.86 40.02L325.56 46.62Z" fill="#00ff00" stroke="#00ff00" stroke-width="0.8" stroke-linejoin="round"/>
<path d="M333.34 49.26L339.94 49.26L336.64 55.86Z" fill="#00ff00" stroke="#00ff00" stroke-width="0.8" stroke-linejoin="round"/>
<path d="M344.43 58.27L351.03 58.27L347.73 64.87Z" fill="#00ff00" stroke="#00ff00" stroke-width="0.8" stroke-linejoin="round"/>
<path d="M355.51 67.12L362.11 67.12L358.81 73.72Z" fill="#00ff00" stroke="#00ff00" stroke-width="0.8" stroke-linejoin="round"/>
<path d="M366.59 75.88L373.19 75.88L369.89 82.48Z" fill="#00ff00" stroke="#00ff00" stroke-width="0.8" stroke-linejoin="round"/>
<path d="M377.68 84.56L384.28 84.56L380.98 91.16Z" fill="#00ff00" stroke="#00ff00" stroke-width="0.8" stroke-linejoin="round"/>
<path d="M388.76 93.20L395.37 93.20L392.06 99.80Z" fill="#00ff00" stroke="#00ff00" stroke-width="0.8" stroke-linejoin="round"/>
<path d="M399.85 101.81L406.45 101.81L403.15 108.41Z" fill="#00ff00" stroke="#00ff00" stroke-width="0.8" stroke-linejoin="round"/>
<path d="M410.94 110.41L417.54 110.41L414.24 117.01Z" fill="#00ff00" stroke="#00ff00" stroke-width="0.8" stroke-linejoin="round"/>
<path d="M422.02 119.00L428.62 119.00L425.32 125.60Z" fill="#00ff00" stroke="#00ff00" stroke-width="0.8" stroke-linejoin="round"/>
<path d="M433.10 127.61L439.70 127.61L436.40 134.21Z" fill="#00ff00" stroke="#00ff00" stroke-width="0.8" stroke-linejoin="round"/>
<path d="M444.19 136.23L450.79 136.23L447.49 142.83Z" fill="#00ff00" stroke="#00ff00" stroke-width="0.8" stroke-linejoin="round"/>
<path d="M455.27 144.87L461.88 144.87L458.57 151.47Z" fill="#00ff00" stroke="#00ff00" stroke-width="0.8" stroke-linejoin="round"/>
<path d="M466.36 153.54L472.96 153.54L469.66 160.14Z" fill="#00ff00" stroke="#00ff00" stroke-width="0.8" stroke-linejoin="round"/>
<path d="M477.44 162.24L484.05 162.24L480.75 168.84Z" fill="#00ff00" stroke="#00ff00" stroke-width="0.8" stroke-linejoin="round"/>
<path d="M488.53 170.99L495.13 170.99L491.83 177.59Z" fill="#00ff00" stroke="#00ff00" stroke-width="0.8" stroke-linejoin="round"/>
<path d="M499.61 179.77L506.21 179.77L502.91 186.37Z" fill="#00ff00" stroke="#00ff00" stroke-width="0.8" stroke-linejoin="round"/>
<path d="M510.70 188.59L517.30 188.59L514.00 195.19Z" fill="#00ff00" stroke="#00ff00" stroke-width="0.8" stroke-linejoin="round"/>
<polyline fill="none" stroke="#0000ff" stroke-width="2.40" stroke-linejoin="round" points="292.30,9.90 303.38,18.80 314.47,27.04 325.56,35.18 336.64,43.33 347.73,51.54 358.81,59.84 369.89,68.24 380.98,76.76 392.06,85.42 403.15,94.21 414.24,103.16 425.32,112.26 436.40,121.52 447.49,130.95 458.57,140.56 469.66,150.35 480.75,160.32 491.83,170.48 502.91,180.84 514.00,191.40"/>
<path d="M289.00 7.10L295.60 7.10L292.30 13.70Z" fill="#0000ff" stroke="#0000ff" stroke-width="0.8" stroke-linejoin="round"/>
<path d="M300.08 15.99L306.69 15.99L303.38 22.59Z" fill="#0000ff" stroke="#0000ff" stroke-width="0.8" stroke-linejoin="round"/>
<path d="M311.17 24.23L317.77 24.23L314.47 30.83Z" fill="#0000ff" stroke="#0000ff" stroke-width="0.8" stroke-linejoin="round"/>
<path d="M322.25 32.38L328.86 32.38L325.56 38.98Z" fill="#0000ff" stroke="#0000ff" stroke-width="0.8" stroke-linejoin="round"/>
<path d="M333.34 40.53L339.94 40.53L336.64 47.13Z" fill="#0000ff" stroke="#0000ff" stroke-width="0.8" stroke-linejoin="round"/>
<path d="M344.43 48.74L351.03 48.74L347.73 55.34Z" fill="#0000ff" stroke="#0000ff" stroke-width="0.8" stroke-linejoin="round"/>
<path d="M355.51 57.03L362.11 57.03L358.81 63.63Z" fill="#0000ff" stroke="#0000ff" stroke-width="0.8" stroke-linejoin="round"/>
<path d="M366.59 65.43L373.19 65.43L369.89 72.03Z" fill="#0000ff" stroke="#0000ff" stroke-width="0.8" stroke-linejoin="round"/>
<path d="M377.68 73.96L384.28 73.96L380.98 80.56Z" fill="#0000ff" stroke="#0000ff" stroke-width="0.8" stroke-linejoin="round"/>
<path d="M388.76 82.61L395.37 82.61L392.06 89.21Z" fill="#0000ff" stroke="#0000ff" stroke-width="0.8" stroke-linejoin="round"/>
<path d="M399.85 91.41L406.45 91.41L403.15 98.01Z" fill="#0000ff" stroke="#0000ff" stroke-width="0.8" stroke-linejoin="round"/>
<path d="M410.94 100.35L417.54 100.35L414.24 106.95Z" fill="#0000ff" stroke="#0000ff" stroke-width="0.8" stroke-linejoin="round"/>
<path d="M422.02 109.45L428.62 109.45L425.32 116.05Z" fill="#0000ff" stroke="#0000ff" stroke-width="0.8" stroke-linejoin="round"/>
<path d="M433.10 118.71L439.70 118.71L436.40 125.31Z" fill="#0000ff" stroke="#0000ff" stroke-width="0.8" stroke-linejoin="round"/>
<path d="M444.19 128.15L450.79 128.15L447.49 134.75Z" fill="#0000ff" stroke="#0000ff" stroke-width="0.8" stroke-linejoin="round"/>
<path d="M455.27 137.75L461.88 137.75L458.57 144.35Z" fill="#0000ff" stroke="#0000ff" stroke-width="0.8" stroke-linejoin="round"/>
<path d="M466.36 147.54L472.96 147.54L469.66 154.14Z" fill="#0000ff" stroke="#0000ff" stroke-width="0.8" stroke-linejoin="round"/>
<path d="M477.44 157.51L484.05 157.51L480.75 164.11Z" fill="#0000ff" stroke="#0000ff" stroke-width="0.8" stroke-linejoin="round"/>
<path d="M488.53 167.68L495.13 167.68L491.83 174.28Z" fill="#0000ff" stroke="#0000ff" stroke-width="0.8" stroke-linejoin="round"/>
<path d="M499.61 178.03L506.21 178.03L502.91 184.63Z" fill="#0000ff" stroke="#0000ff" stroke-width="0.8" stroke-linejoin="round"/>
<path d="M510.70 188.59L517.30 188.59L514.00 195.19Z" fill="#0000ff" stroke="#0000ff" stroke-width="0.8" stroke-linejoin="round"/>
<polyline fill="none" stroke="#ff0000" stroke-width="2.40" stroke-linejoin="round" points="292.30,9.90 303.38,30.36 314.47,47.29 325.56,62.33 336.64,75.91 347.73,88.27 358.81,99.57 369.89,109.95 380.98,119.50 392.06,128.31 403.15,136.44 414.24,143.96 425.32,150.93 436.40,157.38 447.49,163.37 458.57,168.93 469.66,174.10 480.75,178.90 491.83,183.37 502.91,187.53 514.00,191.40"/>
<circle cx="292.30" cy="9.90" r="2.90" fill="none" stroke="#ff0000" stroke-width="1.60"/>
<circle cx="303.38" cy="30.36" r="2.90" fill="none" stroke="#ff0000" stroke-width="1.60"/>
<circle cx="314.47" cy="47.29" r="2.90" fill="none" stroke="#ff0000" stroke-width="1.60"/>
<circle cx="325.56" cy="62.33" r="2.90" fill="none" stroke="#ff0000" stroke-width="1.60"/>
<circle cx="336.64" cy="75.91" r="2.90" fill="none" stroke="#ff0000" stroke-width="1.60"/>
<circle cx="347.73" cy="88.27" r="2.90" fill="none" stroke="#ff0000" stroke-width="1.60"/>
<circle cx="358.81" cy="99.57" r="2.90" fill="none" stroke="#ff0000" stroke-width="1.60"/>
<circle cx="369.89" cy="109.95" r="2.90" fill="none" stroke="#ff0000" stroke-width="1.60"/>
<circle cx="380.98" cy="119.50" r="2.90" fill="none" stroke="#ff0000" stroke-width="1.60"/>
<circle cx="392.06" cy="128.31" r="2.90" fill="none" stroke="#ff0000" stroke-width="1.60"/>
<circle cx="403.15" cy="136.44" r="2.90" fill="none" stroke="#ff0000" stroke-width="1.60"/>
<circle cx="414.24" cy="143.96" r="2.90" fill="none" stroke="#ff0000" stroke-width="1.60"/>
<circle cx="425.32" cy="150.93" r="2.90" fill="none" stroke="#ff0000" stroke-width="1.60"/>
<circle cx="436.40" cy="157.38" r="2.90" fill="none" stroke="#ff0000" stroke-width="1.60"/>
<circle cx="447.49" cy="163.37" r="2.90" fill="none" stroke="#ff0000" stroke-width="1.60"/>
<circle cx="458.57" cy="168.93" r="2.90" fill="none" stroke="#ff0000" stroke-width="1.60"/>
<circle cx="469.66" cy="174.10" r="2.90" fill="none" stroke="#ff0000" stroke-width="1.60"/>
<circle cx="480.75" cy="178.90" r="2.90" fill="none" stroke="#ff0000" stroke-width="1.60"/>
<circle cx="491.83" cy="183.37" r="2.90" fill="none" stroke="#ff0000" stroke-width="1.60"/>
<circle cx="502.91" cy="187.53" r="2.90" fill="none" stroke="#ff0000" stroke-width="1.60"/>
<circle cx="514.00" cy="191.40" r="2.90" fill="none" stroke="#ff0000" stroke-width="1.60"/>
<polyline fill="none" stroke="#00ff00" stroke-width="2.40" stroke-linejoin="round" points="292.30,9.90 303.38,31.77 314.47,51.05 325.56,68.20 336.64,83.49 347.73,97.15 358.81,109.36 369.89,120.27 380.98,130.04 392.06,138.77 403.15,146.59 414.24,153.59 425.32,159.86 436.40,165.47 447.49,170.50 458.57,175.00 469.66,179.04 480.75,182.65 491.83,185.89 502.91,188.80 514.00,191.40"/>
<circle cx="292.30" cy="9.90" r="2.90" fill="none" stroke="#00ff00" stroke-width="1.60"/>
<circle cx="303.38" cy="31.77" r="2.90" fill="none" stroke="#00ff00" stroke-width="1.60"/>
<circle cx="314.47" cy="51.05" r="2.90" fill="none" stroke="#00ff00" stroke-width="1.60"/>
<circle cx="325.56" cy="68.20" r="2.90" fill="none" stroke="#00ff00" stroke-width="1.60"/>
<circle cx="336.64" cy="83.49" r="2.90" fill="none" stroke="#00ff00" stroke-width="1.60"/>
<circle cx="347.73" cy="97.15" r="2.90" fill="none" stroke="#00ff00" stroke-width="1.60"/>
<circle cx="358.81" cy="109.36" r="2.90" fill="none" stroke="#00ff00" stroke-width="1.60"/>
<circle cx="369.89" cy="120.27" r="2.90" fill="none" stroke="#00ff00" stroke-width="1.60"/>
<circle cx="380.98" cy="130.04" r="2.90" fill="none" stroke="#00ff00" stroke-width="1.60"/>
<circle cx="392.06" cy="138.77" r="2.90" fill="none" stroke="#00ff00" stroke-width="1.60"/>
<circle cx="403.15" cy="146.59" r="2.90" fill="none" stroke="#00ff00" stroke-width="1.60"/>
<circle cx="414.24" cy="153.59" r="2.90" fill="none" stroke="#00ff00" stroke-width="1.60"/>
<circle cx="425.32" cy="159.86" r="2.90" fill="none" stroke="#00ff00" stroke-width="1.60"/>
<circle cx="436.40" cy="165.47" r="2.90" fill="none" stroke="#00ff00" stroke-width="1.60"/>
<circle cx="447.49" cy="170.50" r="2.90" fill="none" stroke="#00ff00" stroke-width="1.60"/>
<circle cx="458.57" cy="175.00" r="2.90" fill="none" stroke="#00ff00" stroke-width="1.60"/>
<circle cx="469.66" cy="179.04" r="2.90" fill="none" stroke="#00ff00" stroke-width="1.60"/>
<circle cx="480.75" cy="182.65" r="2.90" fill="none" stroke="#00ff00" stroke-width="1.60"/>
<circle cx="491.83" cy="185.89" r="2.90" fill="none" stroke="#00ff00" stroke-width="1.60"/>
<circle cx="502.91" cy="188.80" r="2.90" fill="none" stroke="#00ff00" stroke-width="1.60"/>
<circle cx="514.00" cy="191.40" r="2.90" fill="none" stroke="#00ff00" stroke-width="1.60"/>
<polyline fill="none" stroke="#0000ff" stroke-width="2.40" stroke-linejoin="round" points="292.30,9.90 303.38,31.59 314.47,53.34 325.56,73.21 336.64,90.89 347.73,106.44 358.81,119.99 369.89,131.72 380.98,141.83 392.06,150.50 403.15,157.92 414.24,164.24 425.32,169.62 436.40,174.19 447.49,178.06 458.57,181.33 469.66,184.09 480.75,186.42 491.83,188.37 502.91,190.02 514.00,191.40"/>
<circle cx="292.30" cy="9.90" r="2.90" fill="none" stroke="#0000ff" stroke-width="1.60"/>
<circle cx="303.38" cy="31.59" r="2.90" fill="none" stroke="#0000ff" stroke-width="1.60"/>
<circle cx="314.47" cy="53.34" r="2.90" fill="none" stroke="#0000ff" stroke-width="1.60"/>
<circle cx="325.56" cy="73.21" r="2.90" fill="none" stroke="#0000ff" stroke-width="1.60"/>
<circle cx="336.64" cy="90.89" r="2.90" fill="none" stroke="#0000ff" stroke-width="1.60"/>
<circle cx="347.73" cy="106.44" r="2.90" fill="none" stroke="#0000ff" stroke-width="1.60"/>
<circle cx="358.81" cy="119.99" r="2.90" fill="none" stroke="#0000ff" stroke-width="1.60"/>
<circle cx="369.89" cy="131.72" r="2.90" fill="none" stroke="#0000ff" stroke-width="1.60"/>
<circle cx="380.98" cy="141.83" r="2.90" fill="none" stroke="#0000ff" stroke-width="1.60"/>
<circle cx="392.06" cy="150.50" r="2.90" fill="none" stroke="#0000ff" stroke-width="1.60"/>
<circle cx="403.15" cy="157.92" r="2.90" fill="none" stroke="#0000ff" stroke-width="1.60"/>
<circle cx="414.24" cy="164.24" r="2.90" fill="none" stroke="#0000ff" stroke-width="1.60"/>
<circle cx="425.32" cy="169.62" r="2.90" fill="none" stroke="#0000ff" stroke-width="1.60"/>
<circle cx="436.40" cy="174.19" r="2.90" fill="none" stroke="#0000ff" stroke-width="1.60"/>
<circle cx="447.49" cy="178.06" r="2.90" fill="none" stroke="#0000ff" stroke-width="1.60"/>
<circle cx="458.57" cy="181.33" r="2.90" fill="none" stroke="#0000ff" stroke-width="1.60"/>
<circle cx="469.66" cy="184.09" r="2.90" fill="none" stroke="#0000ff" stroke-width="1.60"/>
<circle cx="480.75" cy="186.42" r="2.90" fill="none" stroke="#0000ff" stroke-width="1.60"/>
<circle cx="491.83" cy="188.37" r="2.90" fill="none" stroke="#0000ff" stroke-width="1.60"/>
<circle cx="502.91" cy="190.02" r="2.90" fill="none" stroke="#0000ff" stroke-width="1.60"/>
<circle cx="514.00" cy="191.40" r="2.90" fill="none" stroke="#0000ff" stroke-width="1.60"/>
<circle cx="292.30" cy="9.90" r="1.10" fill="#000"/>
<circle cx="303.38" cy="26.32" r="1.10" fill="#000"/>
<circle cx="314.47" cy="38.67" r="1.10" fill="#000"/>
<circle cx="325.56" cy="49.81" r="1.10" fill="#000"/>
<circle cx="336.64" cy="60.21" r="1.10" fill="#000"/>
<circle cx="347.73" cy="70.10" r="1.10" fill="#000"/>
<circle cx="358.81" cy="79.59" r="1.10" fill="#000"/>
<circle cx="369.89" cy="88.75" r="1.10" fill="#000"/>
<circle cx="380.98" cy="97.64" r="1.10" fill="#000"/>
<circle cx="392.06" cy="106.30" r="1.10" fill="#000"/>
<circle cx="403.15" cy="114.75" r="1.10" fill="#000"/>
<circle cx="414.24" cy="123.01" r="1.10" fill="#000"/>
<circle cx="425.32" cy="131.12" r="1.10" fill="#000"/>
<circle cx="436.40" cy="139.07" r="1.10" fill="#000"/>
<circle cx="447.49" cy="146.88" r="1.10" fill="#000"/>
<circle cx="458.57" cy="154.57" r="1.10" fill="#000"/>
<circle cx="469.66" cy="162.14" r="1.10" fill="#000"/>
<circle cx="480.75" cy="169.60" r="1.10" fill="#000"/>
<circle cx="491.83" cy="176.96" r="1.10" fill="#000"/>
<circle cx="502.91" cy="184.23" r="1.10" fill="#000"/>
<circle cx="514.00" cy="191.40" r="1.10" fill="#000"/>
<circle cx="292.30" cy="9.90" r="1.10" fill="#000"/>
<circle cx="303.38" cy="22.91" r="1.10" fill="#000"/>
<circle cx="314.47" cy="33.21" r="1.10" fill="#000"/>
<circle cx="325.56" cy="42.83" r="1.10" fill="#000"/>
<circle cx="336.64" cy="52.06" r="1.10" fill="#000"/>
<circle cx="347.73" cy="61.07" r="1.10" fill="#000"/>
<circle cx="358.81" cy="69.93" r="1.10" fill="#000"/>
<circle cx="369.89" cy="78.68" r="1.10" fill="#000"/>
<circle cx="380.98" cy="87.36" r="1.10" fill="#000"/>
<circle cx="392.06" cy="96.00" r="1.10" fill="#000"/>
<circle cx="403.15" cy="104.61" r="1.10" fill="#000"/>
<circle cx="414.24" cy="113.21" r="1.10" fill="#000"/>
<circle cx="425.32" cy="121.81" r="1.10" fill="#000"/>
<circle cx="436.40" cy="130.41" r="1.10" fill="#000"/>
<circle cx="447.49" cy="139.03" r="1.10" fill="#000"/>
<circle cx="458.57" cy="147.68" r="1.10" fill="#000"/>
<circle cx="469.66" cy="156.35" r="1.10" fill="#000"/>
<circle cx="480.75" cy="165.05" r="1.10" fill="#000"/>
<circle cx="491.83" cy="173.79" r="1.10" fill="#000"/>
<circle cx="502.91" cy="182.57" r="1.10" fill="#000"/>
<circle cx="514.00" cy="191.40" r="1.10" fill="#000"/>
<circle cx="292.30" cy="9.90" r="1.10" fill="#000"/>
<circle cx="303.38" cy="18.80" r="1.10" fill="#000"/>
<circle cx="314.47" cy="27.04" r="1.10" fill="#000"/>
<circle cx="325.56" cy="35.18" r="1.10" fill="#000"/>
<circle cx="336.64" cy="43.33" r="1.10" fill="#000"/>
<circle cx="347.73" cy="51.54" r="1.10" fill="#000"/>
<circle cx="358.81" cy="59.84" r="1.10" fill="#000"/>
<circle cx="369.89" cy="68.24" r="1.10" fill="#000"/>
<circle cx="380.98" cy="76.76" r="1.10" fill="#000"/>
<circle cx="392.06" cy="85.42" r="1.10" fill="#000"/>
<circle cx="403.15" cy="94.21" r="1.10" fill="#000"/>
<circle cx="414.24" cy="103.16" r="1.10" fill="#000"/>
<circle cx="425.32" cy="112.26" r="1.10" fill="#000"/>
<circle cx="436.40" cy="121.52" r="1.10" fill="#000"/>
<circle cx="447.49" cy="130.95" r="1.10" fill="#000"/>
<circle cx="458.57" cy="140.56" r="1.10" fill="#000"/>
<circle cx="469.66" cy="150.35" r="1.10" fill="#000"/>
<circle cx="480.75" cy="160.32" r="1.10" fill="#000"/>
<circle cx="491.83" cy="170.48" r="1.10" fill="#000"/>
<circle cx="502.91" cy="180.84" r="1.10" fill="#000"/>
<circle cx="514.00" cy="191.40" r="1.10" fill="#000"/>
<circle cx="292.30" cy="9.90" r="1.10" fill="#000"/>
<circle cx="303.38" cy="30.36" r="1.10" fill="#000"/>
<circle cx="314.47" cy="47.29" r="1.10" fill="#000"/>
<circle cx="325.56" cy="62.33" r="1.10" fill="#000"/>
<circle cx="336.64" cy="75.91" r="1.10" fill="#000"/>
<circle cx="347.73" cy="88.27" r="1.10" fill="#000"/>
<circle cx="358.81" cy="99.57" r="1.10" fill="#000"/>
<circle cx="369.89" cy="109.95" r="1.10" fill="#000"/>
<circle cx="380.98" cy="119.50" r="1.10" fill="#000"/>
<circle cx="392.06" cy="128.31" r="1.10" fill="#000"/>
<circle cx="403.15" cy="136.44" r="1.10" fill="#000"/>
<circle cx="414.24" cy="143.96" r="1.10" fill="#000"/>
<circle cx="425.32" cy="150.93" r="1.10" fill="#000"/>
<circle cx="436.40" cy="157.38" r="1.10" fill="#000"/>
<circle cx="447.49" cy="163.37" r="1.10" fill="#000"/>
<circle cx="458.57" cy="168.93" r="1.10" fill="#000"/>
<circle cx="469.66" cy="174.10" r="1.10" fill="#000"/>
<circle cx="480.75" cy="178.90" r="1.10" fill="#000"/>
<circle cx="491.83" cy="183.37" r="1.10" fill="#000"/>
<circle cx="502.91" cy="187.53" r="1.10" fill="#000"/>
<circle cx="514.00" cy="191.40" r="1.10" fill="#000"/>
<circle cx="292.30" cy="9.90" r="1.10" fill="#000"/>
<circle cx="303.38" cy="31.77" r="1.10" fill="#000"/>
<circle cx="314.47" cy="51.05" r="1.10" fill="#000"/>
<circle cx="325.56" cy="68.20" r="1.10" fill="#000"/>
<circle cx="336.64" cy="83.49" r="1.10" fill="#000"/>
<circle cx="347.73" cy="97.15" r="1.10" fill="#000"/>
<circle cx="358.81" cy="109.36" r="1.10" fill="#000"/>
<circle cx="369.89" cy="120.27" r="1.10" fill="#000"/>
<circle cx="380.98" cy="130.04" r="1.10" fill="#000"/>
<circle cx="392.06" cy="138.77" r="1.10" fill="#000"/>
<circle cx="403.15" cy="146.59" r="1.10" fill="#000"/>
<circle cx="414.24" cy="153.59" r="1.10" fill="#000"/>
<circle cx="425.32" cy="159.86" r="1.10" fill="#000"/>
<circle cx="436.40" cy="165.47" r="1.10" fill="#000"/>
<circle cx="447.49" cy="170.50" r="1.10" fill="#000"/>
<circle cx="458.57" cy="175.00" r="1.10" fill="#000"/>
<circle cx="469.66" cy="179.04" r="1.10" fill="#000"/>
<circle cx="480.75" cy="182.65" r="1.10" fill="#000"/>
<circle cx="491.83" cy="185.89" r="1.10" fill="#000"/>
<circle cx="502.91" cy="188.80" r="1.10" fill="#000"/>
<circle cx="514.00" cy="191.40" r="1.10" fill="#000"/>
<circle cx="292.30" cy="9.90" r="1.10" fill="#000"/>
<circle cx="303.38" cy="31.59" r="1.10" fill="#000"/>
<circle cx="314.47" cy="53.34" r="1.10" fill="#000"/>
<circle cx="325.56" cy="73.21" r="1.10" fill="#000"/>
<circle cx="336.64" cy="90.89" r="1.10" fill="#000"/>
<circle cx="347.73" cy="106.44" r="1.10" fill="#000"/>
<circle cx="358.81" cy="119.99" r="1.10" fill="#000"/>
<circle cx="369.89" cy="131.72" r="1.10" fill="#000"/>
<circle cx="380.98" cy="141.83" r="1.10" fill="#000"/>
<circle cx="392.06" cy="150.50" r="1.10" fill="#000"/>
<circle cx="403.15" cy="157.92" r="1.10" fill="#000"/>
<circle cx="414.24" cy="164.24" r="1.10" fill="#000"/>
<circle cx="425.32" cy="169.62" r="1.10" fill="#000"/>
<circle cx="436.40" cy="174.19" r="1.10" fill="#000"/>
<circle cx="447.49" cy="178.06" r="1.10" fill="#000"/>
<circle cx="458.57" cy="181.33" r="1.10" fill="#000"/>
<circle cx="469.66" cy="184.09" r="1.10" fill="#000"/>
<circle cx="480.75" cy="186.42" r="1.10" fill="#000"/>
<circle cx="491.83" cy="188.37" r="1.10" fill="#000"/>
<circle cx="502.91" cy="190.02" r="1.10" fill="#000"/>
<circle cx="514.00" cy="191.40" r="1.10" fill="#000"/>
<text transform="translate(403.30,223.00) scale(1.000,1.120)" font-size="8.30" text-anchor="middle">Inputs</text>
<text transform="translate(276.20,101.80) rotate(-90) scale(1.090,1.000)" font-size="8.30" text-anchor="middle">Numerical Values</text>
<rect x="437.4" y="2.5" width="76.4" height="88.5" fill="#fff" stroke="#1c1c1c" stroke-width="1.1"/>
<path d="M440.50 9.40H470.80" stroke="#ff0000" stroke-width="2.60"/><path d="M453.10 6.77L459.30 6.77L456.20 12.96Z" fill="#ff0000" stroke="#ff0000" stroke-width="0.8" stroke-linejoin="round"/>
<text transform="translate(473.80,12.70) scale(1.000,1.100)" font-size="8.30" text-anchor="start"><tspan font-family="'Liberation Serif','DejaVu Serif',serif" font-size="8.2" fill="#444" stroke="none">Ω</tspan><tspan dx="1.0"> = -0.1</tspan></text>
<path d="M440.50 21.70H470.80" stroke="#00ff00" stroke-width="2.60"/><path d="M453.10 19.07L459.30 19.07L456.20 25.27Z" fill="#00ff00" stroke="#00ff00" stroke-width="0.8" stroke-linejoin="round"/>
<text transform="translate(475.60,25.00) scale(1.000,1.100)" font-size="8.30" text-anchor="start"><tspan font-family="'Liberation Serif','DejaVu Serif',serif" font-size="8.2" fill="#444" stroke="none">Ω</tspan><tspan dx="1.0"> = -0.2</tspan></text>
<path d="M440.50 34.00H470.80" stroke="#0000ff" stroke-width="2.60"/><path d="M453.10 31.37L459.30 31.37L456.20 37.56Z" fill="#0000ff" stroke="#0000ff" stroke-width="0.8" stroke-linejoin="round"/>
<text transform="translate(473.80,37.30) scale(1.000,1.100)" font-size="8.30" text-anchor="start"><tspan font-family="'Liberation Serif','DejaVu Serif',serif" font-size="8.2" fill="#444" stroke="none">Ω</tspan><tspan dx="1.0"> = -0.3</tspan></text>
<path d="M440.50 46.30H470.80" stroke="#ff0000" stroke-width="2.60"/><circle cx="456.20" cy="46.30" r="2.90" fill="none" stroke="#ff0000" stroke-width="1.60"/>
<text transform="translate(473.80,49.60) scale(1.000,1.100)" font-size="8.30" text-anchor="start"><tspan font-family="'Liberation Serif','DejaVu Serif',serif" font-size="8.2" fill="#444" stroke="none">Ω</tspan><tspan dx="1.0"> = 0.1</tspan></text>
<path d="M440.50 58.60H470.80" stroke="#00ff00" stroke-width="2.60"/><circle cx="456.20" cy="58.60" r="2.90" fill="none" stroke="#00ff00" stroke-width="1.60"/>
<text transform="translate(475.60,61.90) scale(1.000,1.100)" font-size="8.30" text-anchor="start"><tspan font-family="'Liberation Serif','DejaVu Serif',serif" font-size="8.2" fill="#444" stroke="none">Ω</tspan><tspan dx="1.0"> = 0.2</tspan></text>
<path d="M440.50 70.90H470.80" stroke="#0000ff" stroke-width="2.60"/><circle cx="456.20" cy="70.90" r="2.90" fill="none" stroke="#0000ff" stroke-width="1.60"/>
<text transform="translate(473.80,74.20) scale(1.000,1.100)" font-size="8.30" text-anchor="start"><tspan font-family="'Liberation Serif','DejaVu Serif',serif" font-size="8.2" fill="#444" stroke="none">Ω</tspan><tspan dx="1.0"> = 0.3</tspan></text>
<circle cx="456.20" cy="83.20" r="1.15" fill="#000"/>
<text transform="translate(473.80,86.50) scale(1.000,1.100)" font-size="8.30" text-anchor="start">Numerical</text>
<rect x="26.20" y="251.70" width="485.90" height="84.30" fill="#fff" stroke="#1c1c1c" stroke-width="1.1"/>
<path d="M26.20 336.00v-2.30M26.20 251.70v2.30" stroke="#1c1c1c" stroke-width="0.9"/>
<text transform="translate(26.20,345.70) scale(1.250,1.000)" font-size="6.90" text-anchor="middle">1</text>
<path d="M74.79 336.00v-2.30M74.79 251.70v2.30" stroke="#1c1c1c" stroke-width="0.9"/>
<text transform="translate(74.79,345.70) scale(1.250,1.000)" font-size="6.90" text-anchor="middle">1.2</text>
<path d="M123.38 336.00v-2.30M123.38 251.70v2.30" stroke="#1c1c1c" stroke-width="0.9"/>
<text transform="translate(123.38,345.70) scale(1.250,1.000)" font-size="6.90" text-anchor="middle">1.4</text>
<path d="M171.97 336.00v-2.30M171.97 251.70v2.30" stroke="#1c1c1c" stroke-width="0.9"/>
<text transform="translate(171.97,345.70) scale(1.250,1.000)" font-size="6.90" text-anchor="middle">1.6</text>
<path d="M220.56 336.00v-2.30M220.56 251.70v2.30" stroke="#1c1c1c" stroke-width="0.9"/>
<text transform="translate(220.56,345.70) scale(1.250,1.000)" font-size="6.90" text-anchor="middle">1.8</text>
<path d="M269.15 336.00v-2.30M269.15 251.70v2.30" stroke="#1c1c1c" stroke-width="0.9"/>
<text transform="translate(269.15,345.70) scale(1.250,1.000)" font-size="6.90" text-anchor="middle">2</text>
<path d="M317.74 336.00v-2.30M317.74 251.70v2.30" stroke="#1c1c1c" stroke-width="0.9"/>
<text transform="translate(317.74,345.70) scale(1.250,1.000)" font-size="6.90" text-anchor="middle">2.2</text>
<path d="M366.33 336.00v-2.30M366.33 251.70v2.30" stroke="#1c1c1c" stroke-width="0.9"/>
<text transform="translate(366.33,345.70) scale(1.250,1.000)" font-size="6.90" text-anchor="middle">2.4</text>
<path d="M414.92 336.00v-2.30M414.92 251.70v2.30" stroke="#1c1c1c" stroke-width="0.9"/>
<text transform="translate(414.92,345.70) scale(1.250,1.000)" font-size="6.90" text-anchor="middle">2.6</text>
<path d="M463.51 336.00v-2.30M463.51 251.70v2.30" stroke="#1c1c1c" stroke-width="0.9"/>
<text transform="translate(463.51,345.70) scale(1.250,1.000)" font-size="6.90" text-anchor="middle">2.8</text>
<path d="M512.10 336.00v-2.30M512.10 251.70v2.30" stroke="#1c1c1c" stroke-width="0.9"/>
<text transform="translate(512.10,345.70) scale(1.250,1.000)" font-size="6.90" text-anchor="middle">3</text>
<path d="M26.20 332.70h2.30M512.10 332.70h-2.30" stroke="#1c1c1c" stroke-width="0.9"/>
<text transform="translate(23.70,335.20) scale(1.250,1.000)" font-size="6.90" text-anchor="end">0</text>
<path d="M26.20 293.60h2.30M512.10 293.60h-2.30" stroke="#1c1c1c" stroke-width="0.9"/>
<text transform="translate(23.70,296.10) scale(1.250,1.000)" font-size="6.90" text-anchor="end">0.5</text>
<polyline fill="none" stroke="#ff0000" stroke-width="1.80" stroke-linejoin="round" points="26.20,254.50 50.50,260.54 74.79,264.99 99.09,269.07 123.38,272.97 147.68,276.76 171.97,280.48 196.26,284.17 220.56,287.83 244.86,291.48 269.15,295.13 293.45,298.79 317.74,302.46 342.04,306.15 366.33,309.85 390.62,313.59 414.92,317.34 439.22,321.13 463.51,324.95 487.81,328.81 512.10,332.70"/>
<path d="M24.00 252.63L28.40 252.63L26.20 257.03Z" fill="#ff0000" stroke="#ff0000" stroke-width="0.8" stroke-linejoin="round"/>
<path d="M48.30 258.67L52.70 258.67L50.50 263.07Z" fill="#ff0000" stroke="#ff0000" stroke-width="0.8" stroke-linejoin="round"/>
<path d="M72.59 263.12L76.99 263.12L74.79 267.52Z" fill="#ff0000" stroke="#ff0000" stroke-width="0.8" stroke-linejoin="round"/>
<path d="M96.89 267.20L101.29 267.20L99.09 271.60Z" fill="#ff0000" stroke="#ff0000" stroke-width="0.8" stroke-linejoin="round"/>
<path d="M121.18 271.10L125.58 271.10L123.38 275.50Z" fill="#ff0000" stroke="#ff0000" stroke-width="0.8" stroke-linejoin="round"/>
<path d="M145.48 274.89L149.88 274.89L147.68 279.29Z" fill="#ff0000" stroke="#ff0000" stroke-width="0.8" stroke-linejoin="round"/>
<path d="M169.77 278.61L174.17 278.61L171.97 283.01Z" fill="#ff0000" stroke="#ff0000" stroke-width="0.8" stroke-linejoin="round"/>
<path d="M194.06 282.30L198.46 282.30L196.26 286.70Z" fill="#ff0000" stroke="#ff0000" stroke-width="0.8" stroke-linejoin="round"/>
<path d="M218.36 285.96L222.76 285.96L220.56 290.36Z" fill="#ff0000" stroke="#ff0000" stroke-width="0.8" stroke-linejoin="round"/>
<path d="M242.66 289.61L247.06 289.61L244.86 294.01Z" fill="#ff0000" stroke="#ff0000" stroke-width="0.8" stroke-linejoin="round"/>
<path d="M266.95 293.26L271.35 293.26L269.15 297.66Z" fill="#ff0000" stroke="#ff0000" stroke-width="0.8" stroke-linejoin="round"/>
<path d="M291.25 296.92L295.65 296.92L293.45 301.32Z" fill="#ff0000" stroke="#ff0000" stroke-width="0.8" stroke-linejoin="round"/>
<path d="M315.54 300.59L319.94 300.59L317.74 304.99Z" fill="#ff0000" stroke="#ff0000" stroke-width="0.8" stroke-linejoin="round"/>
<path d="M339.84 304.28L344.24 304.28L342.04 308.68Z" fill="#ff0000" stroke="#ff0000" stroke-width="0.8" stroke-linejoin="round"/>
<path d="M364.13 307.98L368.53 307.98L366.33 312.38Z" fill="#ff0000" stroke="#ff0000" stroke-width="0.8" stroke-linejoin="round"/>
<path d="M388.43 311.72L392.82 311.72L390.62 316.12Z" fill="#ff0000" stroke="#ff0000" stroke-width="0.8" stroke-linejoin="round"/>
<path d="M412.72 315.47L417.12 315.47L414.92 319.87Z" fill="#ff0000" stroke="#ff0000" stroke-width="0.8" stroke-linejoin="round"/>
<path d="M437.02 319.26L441.42 319.26L439.22 323.66Z" fill="#ff0000" stroke="#ff0000" stroke-width="0.8" stroke-linejoin="round"/>
<path d="M461.31 323.08L465.71 323.08L463.51 327.48Z" fill="#ff0000" stroke="#ff0000" stroke-width="0.8" stroke-linejoin="round"/>
<path d="M485.61 326.94L490.00 326.94L487.81 331.34Z" fill="#ff0000" stroke="#ff0000" stroke-width="0.8" stroke-linejoin="round"/>
<path d="M509.90 330.83L514.30 330.83L512.10 335.23Z" fill="#ff0000" stroke="#ff0000" stroke-width="0.8" stroke-linejoin="round"/>
<polyline fill="none" stroke="#00ff00" stroke-width="1.80" stroke-linejoin="round" points="26.20,254.50 50.50,260.16 74.79,264.24 99.09,268.02 123.38,271.66 147.68,275.24 171.97,278.79 196.26,282.34 220.56,285.91 244.86,289.51 269.15,293.14 293.45,296.82 317.74,300.55 342.04,304.34 366.33,308.18 390.62,312.09 414.92,316.07 439.22,320.11 463.51,324.23 487.81,328.43 512.10,332.70"/>
<path d="M24.00 252.63L28.40 252.63L26.20 257.03Z" fill="#00ff00" stroke="#00ff00" stroke-width="0.8" stroke-linejoin="round"/>
<path d="M48.30 258.29L52.70 258.29L50.50 262.69Z" fill="#00ff00" stroke="#00ff00" stroke-width="0.8" stroke-linejoin="round"/>
<path d="M72.59 262.37L76.99 262.37L74.79 266.77Z" fill="#00ff00" stroke="#00ff00" stroke-width="0.8" stroke-linejoin="round"/>
<path d="M96.89 266.15L101.29 266.15L99.09 270.55Z" fill="#00ff00" stroke="#00ff00" stroke-width="0.8" stroke-linejoin="round"/>
<path d="M121.18 269.79L125.58 269.79L123.38 274.19Z" fill="#00ff00" stroke="#00ff00" stroke-width="0.8" stroke-linejoin="round"/>
<path d="M145.48 273.37L149.88 273.37L147.68 277.77Z" fill="#00ff00" stroke="#00ff00" stroke-width="0.8" stroke-linejoin="round"/>
<path d="M169.77 276.92L174.17 276.92L171.97 281.32Z" fill="#00ff00" stroke="#00ff00" stroke-width="0.8" stroke-linejoin="round"/>
<path d="M194.06 280.47L198.46 280.47L196.26 284.87Z" fill="#00ff00" stroke="#00ff00" stroke-width="0.8" stroke-linejoin="round"/>
<path d="M218.36 284.04L222.76 284.04L220.56 288.44Z" fill="#00ff00" stroke="#00ff00" stroke-width="0.8" stroke-linejoin="round"/>
<path d="M242.66 287.64L247.06 287.64L244.86 292.04Z" fill="#00ff00" stroke="#00ff00" stroke-width="0.8" stroke-linejoin="round"/>
<path d="M266.95 291.27L271.35 291.27L269.15 295.67Z" fill="#00ff00" stroke="#00ff00" stroke-width="0.8" stroke-linejoin="round"/>
<path d="M291.25 294.95L295.65 294.95L293.45 299.35Z" fill="#00ff00" stroke="#00ff00" stroke-width="0.8" stroke-linejoin="round"/>
<path d="M315.54 298.68L319.94 298.68L317.74 303.08Z" fill="#00ff00" stroke="#00ff00" stroke-width="0.8" stroke-linejoin="round"/>
<path d="M339.84 302.47L344.24 302.47L342.04 306.87Z" fill="#00ff00" stroke="#00ff00" stroke-width="0.8" stroke-linejoin="round"/>
<path d="M364.13 306.31L368.53 306.31L366.33 310.71Z" fill="#00ff00" stroke="#00ff00" stroke-width="0.8" stroke-linejoin="round"/>
<path d="M388.43 310.22L392.82 310.22L390.62 314.62Z" fill="#00ff00" stroke="#00ff00" stroke-width="0.8" stroke-linejoin="round"/>
<path d="M412.72 314.20L417.12 314.20L414.92 318.60Z" fill="#00ff00" stroke="#00ff00" stroke-width="0.8" stroke-linejoin="round"/>
<path d="M437.02 318.24L441.42 318.24L439.22 322.64Z" fill="#00ff00" stroke="#00ff00" stroke-width="0.8" stroke-linejoin="round"/>
<path d="M461.31 322.36L465.71 322.36L463.51 326.76Z" fill="#00ff00" stroke="#00ff00" stroke-width="0.8" stroke-linejoin="round"/>
<path d="M485.61 326.56L490.00 326.56L487.81 330.96Z" fill="#00ff00" stroke="#00ff00" stroke-width="0.8" stroke-linejoin="round"/>
<path d="M509.90 330.83L514.30 330.83L512.10 335.23Z" fill="#00ff00" stroke="#00ff00" stroke-width="0.8" stroke-linejoin="round"/>
<polyline fill="none" stroke="#0000ff" stroke-width="1.80" stroke-linejoin="round" points="26.20,254.50 50.50,259.57 74.79,263.21 99.09,266.61 123.38,269.94 147.68,273.26 171.97,276.61 196.26,280.00 220.56,283.45 244.86,286.98 269.15,290.60 293.45,294.30 317.74,298.10 342.04,302.01 366.33,306.02 390.62,310.15 414.92,314.40 439.22,318.78 463.51,323.28 487.81,327.92 512.10,332.70"/>
<path d="M24.00 252.63L28.40 252.63L26.20 257.03Z" fill="#0000ff" stroke="#0000ff" stroke-width="0.8" stroke-linejoin="round"/>
<path d="M48.30 257.70L52.70 257.70L50.50 262.10Z" fill="#0000ff" stroke="#0000ff" stroke-width="0.8" stroke-linejoin="round"/>
<path d="M72.59 261.34L76.99 261.34L74.79 265.74Z" fill="#0000ff" stroke="#0000ff" stroke-width="0.8" stroke-linejoin="round"/>
<path d="M96.89 264.74L101.29 264.74L99.09 269.14Z" fill="#0000ff" stroke="#0000ff" stroke-width="0.8" stroke-linejoin="round"/>
<path d="M121.18 268.07L125.58 268.07L123.38 272.47Z" fill="#0000ff" stroke="#0000ff" stroke-width="0.8" stroke-linejoin="round"/>
<path d="M145.48 271.39L149.88 271.39L147.68 275.79Z" fill="#0000ff" stroke="#0000ff" stroke-width="0.8" stroke-linejoin="round"/>
<path d="M169.77 274.74L174.17 274.74L171.97 279.14Z" fill="#0000ff" stroke="#0000ff" stroke-width="0.8" stroke-linejoin="round"/>
<path d="M194.06 278.13L198.46 278.13L196.26 282.53Z" fill="#0000ff" stroke="#0000ff" stroke-width="0.8" stroke-linejoin="round"/>
<path d="M218.36 281.58L222.76 281.58L220.56 285.98Z" fill="#0000ff" stroke="#0000ff" stroke-width="0.8" stroke-linejoin="round"/>
<path d="M242.66 285.11L247.06 285.11L244.86 289.51Z" fill="#0000ff" stroke="#0000ff" stroke-width="0.8" stroke-linejoin="round"/>
<path d="M266.95 288.73L271.35 288.73L269.15 293.13Z" fill="#0000ff" stroke="#0000ff" stroke-width="0.8" stroke-linejoin="round"/>
<path d="M291.25 292.43L295.65 292.43L293.45 296.83Z" fill="#0000ff" stroke="#0000ff" stroke-width="0.8" stroke-linejoin="round"/>
<path d="M315.54 296.23L319.94 296.23L317.74 300.63Z" fill="#0000ff" stroke="#0000ff" stroke-width="0.8" stroke-linejoin="round"/>
<path d="M339.84 300.14L344.24 300.14L342.04 304.54Z" fill="#0000ff" stroke="#0000ff" stroke-width="0.8" stroke-linejoin="round"/>
<path d="M364.13 304.15L368.53 304.15L366.33 308.55Z" fill="#0000ff" stroke="#0000ff" stroke-width="0.8" stroke-linejoin="round"/>
<path d="M388.43 308.28L392.82 308.28L390.62 312.68Z" fill="#0000ff" stroke="#0000ff" stroke-width="0.8" stroke-linejoin="round"/>
<path d="M412.72 312.53L417.12 312.53L414.92 316.93Z" fill="#0000ff" stroke="#0000ff" stroke-width="0.8" stroke-linejoin="round"/>
<path d="M437.02 316.91L441.42 316.91L439.22 321.31Z" fill="#0000ff" stroke="#0000ff" stroke-width="0.8" stroke-linejoin="round"/>
<path d="M461.31 321.41L465.71 321.41L463.51 325.81Z" fill="#0000ff" stroke="#0000ff" stroke-width="0.8" stroke-linejoin="round"/>
<path d="M485.61 326.05L490.00 326.05L487.81 330.45Z" fill="#0000ff" stroke="#0000ff" stroke-width="0.8" stroke-linejoin="round"/>
<path d="M509.90 330.83L514.30 330.83L512.10 335.23Z" fill="#0000ff" stroke="#0000ff" stroke-width="0.8" stroke-linejoin="round"/>
<polyline fill="none" stroke="#ff0000" stroke-width="1.80" stroke-linejoin="round" points="26.20,254.50 50.50,262.13 74.79,269.43 99.09,276.21 123.38,282.45 147.68,288.17 171.97,293.42 196.26,298.22 220.56,302.60 244.86,306.59 269.15,310.24 293.45,313.56 317.74,316.58 342.04,319.33 366.33,321.83 390.62,324.10 414.92,326.17 439.22,328.04 463.51,329.75 487.81,331.30 512.10,332.70"/>
<circle cx="26.20" cy="254.50" r="2.70" fill="none" stroke="#ff0000" stroke-width="1.60"/>
<circle cx="50.50" cy="262.13" r="2.70" fill="none" stroke="#ff0000" stroke-width="1.60"/>
<circle cx="74.79" cy="269.43" r="2.70" fill="none" stroke="#ff0000" stroke-width="1.60"/>
<circle cx="99.09" cy="276.21" r="2.70" fill="none" stroke="#ff0000" stroke-width="1.60"/>
<circle cx="123.38" cy="282.45" r="2.70" fill="none" stroke="#ff0000" stroke-width="1.60"/>
<circle cx="147.68" cy="288.17" r="2.70" fill="none" stroke="#ff0000" stroke-width="1.60"/>
<circle cx="171.97" cy="293.42" r="2.70" fill="none" stroke="#ff0000" stroke-width="1.60"/>
<circle cx="196.26" cy="298.22" r="2.70" fill="none" stroke="#ff0000" stroke-width="1.60"/>
<circle cx="220.56" cy="302.60" r="2.70" fill="none" stroke="#ff0000" stroke-width="1.60"/>
<circle cx="244.86" cy="306.59" r="2.70" fill="none" stroke="#ff0000" stroke-width="1.60"/>
<circle cx="269.15" cy="310.24" r="2.70" fill="none" stroke="#ff0000" stroke-width="1.60"/>
<circle cx="293.45" cy="313.56" r="2.70" fill="none" stroke="#ff0000" stroke-width="1.60"/>
<circle cx="317.74" cy="316.58" r="2.70" fill="none" stroke="#ff0000" stroke-width="1.60"/>
<circle cx="342.04" cy="319.33" r="2.70" fill="none" stroke="#ff0000" stroke-width="1.60"/>
<circle cx="366.33" cy="321.83" r="2.70" fill="none" stroke="#ff0000" stroke-width="1.60"/>
<circle cx="390.62" cy="324.10" r="2.70" fill="none" stroke="#ff0000" stroke-width="1.60"/>
<circle cx="414.92" cy="326.17" r="2.70" fill="none" stroke="#ff0000" stroke-width="1.60"/>
<circle cx="439.22" cy="328.04" r="2.70" fill="none" stroke="#ff0000" stroke-width="1.60"/>
<circle cx="463.51" cy="329.75" r="2.70" fill="none" stroke="#ff0000" stroke-width="1.60"/>
<circle cx="487.81" cy="331.30" r="2.70" fill="none" stroke="#ff0000" stroke-width="1.60"/>
<circle cx="512.10" cy="332.70" r="2.70" fill="none" stroke="#ff0000" stroke-width="1.60"/>
<polyline fill="none" stroke="#00ff00" stroke-width="1.80" stroke-linejoin="round" points="26.20,254.50 50.50,264.79 74.79,274.56 99.09,283.27 123.38,290.89 147.68,297.51 171.97,303.22 196.26,308.12 220.56,312.32 244.86,315.91 269.15,318.97 293.45,321.57 317.74,323.77 342.04,325.64 366.33,327.23 390.62,328.56 414.92,329.70 439.22,330.65 463.51,331.45 487.81,332.13 512.10,332.70"/>
<circle cx="26.20" cy="254.50" r="2.70" fill="none" stroke="#00ff00" stroke-width="1.60"/>
<circle cx="50.50" cy="264.79" r="2.70" fill="none" stroke="#00ff00" stroke-width="1.60"/>
<circle cx="74.79" cy="274.56" r="2.70" fill="none" stroke="#00ff00" stroke-width="1.60"/>
<circle cx="99.09" cy="283.27" r="2.70" fill="none" stroke="#00ff00" stroke-width="1.60"/>
<circle cx="123.38" cy="290.89" r="2.70" fill="none" stroke="#00ff00" stroke-width="1.60"/>
<circle cx="147.68" cy="297.51" r="2.70" fill="none" stroke="#00ff00" stroke-width="1.60"/>
<circle cx="171.97" cy="303.22" r="2.70" fill="none" stroke="#00ff00" stroke-width="1.60"/>
<circle cx="196.26" cy="308.12" r="2.70" fill="none" stroke="#00ff00" stroke-width="1.60"/>
<circle cx="220.56" cy="312.32" r="2.70" fill="none" stroke="#00ff00" stroke-width="1.60"/>
<circle cx="244.86" cy="315.91" r="2.70" fill="none" stroke="#00ff00" stroke-width="1.60"/>
<circle cx="269.15" cy="318.97" r="2.70" fill="none" stroke="#00ff00" stroke-width="1.60"/>
<circle cx="293.45" cy="321.57" r="2.70" fill="none" stroke="#00ff00" stroke-width="1.60"/>
<circle cx="317.74" cy="323.77" r="2.70" fill="none" stroke="#00ff00" stroke-width="1.60"/>
<circle cx="342.04" cy="325.64" r="2.70" fill="none" stroke="#00ff00" stroke-width="1.60"/>
<circle cx="366.33" cy="327.23" r="2.70" fill="none" stroke="#00ff00" stroke-width="1.60"/>
<circle cx="390.62" cy="328.56" r="2.70" fill="none" stroke="#00ff00" stroke-width="1.60"/>
<circle cx="414.92" cy="329.70" r="2.70" fill="none" stroke="#00ff00" stroke-width="1.60"/>
<circle cx="439.22" cy="330.65" r="2.70" fill="none" stroke="#00ff00" stroke-width="1.60"/>
<circle cx="463.51" cy="331.45" r="2.70" fill="none" stroke="#00ff00" stroke-width="1.60"/>
<circle cx="487.81" cy="332.13" r="2.70" fill="none" stroke="#00ff00" stroke-width="1.60"/>
<circle cx="512.10" cy="332.70" r="2.70" fill="none" stroke="#00ff00" stroke-width="1.60"/>
<polyline fill="none" stroke="#0000ff" stroke-width="1.80" stroke-linejoin="round" points="26.20,254.50 50.50,267.49 74.79,278.94 99.09,288.61 123.38,296.69 147.68,303.40 171.97,308.95 196.26,313.53 220.56,317.29 244.86,320.38 269.15,322.91 293.45,324.98 317.74,326.68 342.04,328.06 366.33,329.19 390.62,330.11 414.92,330.86 439.22,331.47 463.51,331.97 487.81,332.37 512.10,332.70"/>
<circle cx="26.20" cy="254.50" r="2.70" fill="none" stroke="#0000ff" stroke-width="1.60"/>
<circle cx="50.50" cy="267.49" r="2.70" fill="none" stroke="#0000ff" stroke-width="1.60"/>
<circle cx="74.79" cy="278.94" r="2.70" fill="none" stroke="#0000ff" stroke-width="1.60"/>
<circle cx="99.09" cy="288.61" r="2.70" fill="none" stroke="#0000ff" stroke-width="1.60"/>
<circle cx="123.38" cy="296.69" r="2.70" fill="none" stroke="#0000ff" stroke-width="1.60"/>
<circle cx="147.68" cy="303.40" r="2.70" fill="none" stroke="#0000ff" stroke-width="1.60"/>
<circle cx="171.97" cy="308.95" r="2.70" fill="none" stroke="#0000ff" stroke-width="1.60"/>
<circle cx="196.26" cy="313.53" r="2.70" fill="none" stroke="#0000ff" stroke-width="1.60"/>
<circle cx="220.56" cy="317.29" r="2.70" fill="none" stroke="#0000ff" stroke-width="1.60"/>
<circle cx="244.86" cy="320.38" r="2.70" fill="none" stroke="#0000ff" stroke-width="1.60"/>
<circle cx="269.15" cy="322.91" r="2.70" fill="none" stroke="#0000ff" stroke-width="1.60"/>
<circle cx="293.45" cy="324.98" r="2.70" fill="none" stroke="#0000ff" stroke-width="1.60"/>
<circle cx="317.74" cy="326.68" r="2.70" fill="none" stroke="#0000ff" stroke-width="1.60"/>
<circle cx="342.04" cy="328.06" r="2.70" fill="none" stroke="#0000ff" stroke-width="1.60"/>
<circle cx="366.33" cy="329.19" r="2.70" fill="none" stroke="#0000ff" stroke-width="1.60"/>
<circle cx="390.62" cy="330.11" r="2.70" fill="none" stroke="#0000ff" stroke-width="1.60"/>
<circle cx="414.92" cy="330.86" r="2.70" fill="none" stroke="#0000ff" stroke-width="1.60"/>
<circle cx="439.22" cy="331.47" r="2.70" fill="none" stroke="#0000ff" stroke-width="1.60"/>
<circle cx="463.51" cy="331.97" r="2.70" fill="none" stroke="#0000ff" stroke-width="1.60"/>
<circle cx="487.81" cy="332.37" r="2.70" fill="none" stroke="#0000ff" stroke-width="1.60"/>
<circle cx="512.10" cy="332.70" r="2.70" fill="none" stroke="#0000ff" stroke-width="1.60"/>
<circle cx="26.20" cy="254.50" r="1.00" fill="#000"/>
<circle cx="50.50" cy="260.54" r="1.00" fill="#000"/>
<circle cx="74.79" cy="264.99" r="1.00" fill="#000"/>
<circle cx="99.09" cy="269.07" r="1.00" fill="#000"/>
<circle cx="123.38" cy="272.97" r="1.00" fill="#000"/>
<circle cx="147.68" cy="276.76" r="1.00" fill="#000"/>
<circle cx="171.97" cy="280.48" r="1.00" fill="#000"/>
<circle cx="196.26" cy="284.17" r="1.00" fill="#000"/>
<circle cx="220.56" cy="287.83" r="1.00" fill="#000"/>
<circle cx="244.86" cy="291.48" r="1.00" fill="#000"/>
<circle cx="269.15" cy="295.13" r="1.00" fill="#000"/>
<circle cx="293.45" cy="298.79" r="1.00" fill="#000"/>
<circle cx="317.74" cy="302.46" r="1.00" fill="#000"/>
<circle cx="342.04" cy="306.15" r="1.00" fill="#000"/>
<circle cx="366.33" cy="309.85" r="1.00" fill="#000"/>
<circle cx="390.62" cy="313.59" r="1.00" fill="#000"/>
<circle cx="414.92" cy="317.34" r="1.00" fill="#000"/>
<circle cx="439.22" cy="321.13" r="1.00" fill="#000"/>
<circle cx="463.51" cy="324.95" r="1.00" fill="#000"/>
<circle cx="487.81" cy="328.81" r="1.00" fill="#000"/>
<circle cx="512.10" cy="332.70" r="1.00" fill="#000"/>
<circle cx="26.20" cy="254.50" r="1.00" fill="#000"/>
<circle cx="50.50" cy="260.16" r="1.00" fill="#000"/>
<circle cx="74.79" cy="264.24" r="1.00" fill="#000"/>
<circle cx="99.09" cy="268.02" r="1.00" fill="#000"/>
<circle cx="123.38" cy="271.66" r="1.00" fill="#000"/>
<circle cx="147.68" cy="275.24" r="1.00" fill="#000"/>
<circle cx="171.97" cy="278.79" r="1.00" fill="#000"/>
<circle cx="196.26" cy="282.34" r="1.00" fill="#000"/>
<circle cx="220.56" cy="285.91" r="1.00" fill="#000"/>
<circle cx="244.86" cy="289.51" r="1.00" fill="#000"/>
<circle cx="269.15" cy="293.14" r="1.00" fill="#000"/>
<circle cx="293.45" cy="296.82" r="1.00" fill="#000"/>
<circle cx="317.74" cy="300.55" r="1.00" fill="#000"/>
<circle cx="342.04" cy="304.34" r="1.00" fill="#000"/>
<circle cx="366.33" cy="308.18" r="1.00" fill="#000"/>
<circle cx="390.62" cy="312.09" r="1.00" fill="#000"/>
<circle cx="414.92" cy="316.07" r="1.00" fill="#000"/>
<circle cx="439.22" cy="320.11" r="1.00" fill="#000"/>
<circle cx="463.51" cy="324.23" r="1.00" fill="#000"/>
<circle cx="487.81" cy="328.43" r="1.00" fill="#000"/>
<circle cx="512.10" cy="332.70" r="1.00" fill="#000"/>
<circle cx="26.20" cy="254.50" r="1.00" fill="#000"/>
<circle cx="50.50" cy="259.57" r="1.00" fill="#000"/>
<circle cx="74.79" cy="263.21" r="1.00" fill="#000"/>
<circle cx="99.09" cy="266.61" r="1.00" fill="#000"/>
<circle cx="123.38" cy="269.94" r="1.00" fill="#000"/>
<circle cx="147.68" cy="273.26" r="1.00" fill="#000"/>
<circle cx="171.97" cy="276.61" r="1.00" fill="#000"/>
<circle cx="196.26" cy="280.00" r="1.00" fill="#000"/>
<circle cx="220.56" cy="283.45" r="1.00" fill="#000"/>
<circle cx="244.86" cy="286.98" r="1.00" fill="#000"/>
<circle cx="269.15" cy="290.60" r="1.00" fill="#000"/>
<circle cx="293.45" cy="294.30" r="1.00" fill="#000"/>
<circle cx="317.74" cy="298.10" r="1.00" fill="#000"/>
<circle cx="342.04" cy="302.01" r="1.00" fill="#000"/>
<circle cx="366.33" cy="306.02" r="1.00" fill="#000"/>
<circle cx="390.62" cy="310.15" r="1.00" fill="#000"/>
<circle cx="414.92" cy="314.40" r="1.00" fill="#000"/>
<circle cx="439.22" cy="318.78" r="1.00" fill="#000"/>
<circle cx="463.51" cy="323.28" r="1.00" fill="#000"/>
<circle cx="487.81" cy="327.92" r="1.00" fill="#000"/>
<circle cx="512.10" cy="332.70" r="1.00" fill="#000"/>
<circle cx="26.20" cy="254.50" r="1.00" fill="#000"/>
<circle cx="50.50" cy="262.13" r="1.00" fill="#000"/>
<circle cx="74.79" cy="269.43" r="1.00" fill="#000"/>
<circle cx="99.09" cy="276.21" r="1.00" fill="#000"/>
<circle cx="123.38" cy="282.45" r="1.00" fill="#000"/>
<circle cx="147.68" cy="288.17" r="1.00" fill="#000"/>
<circle cx="171.97" cy="293.42" r="1.00" fill="#000"/>
<circle cx="196.26" cy="298.22" r="1.00" fill="#000"/>
<circle cx="220.56" cy="302.60" r="1.00" fill="#000"/>
<circle cx="244.86" cy="306.59" r="1.00" fill="#000"/>
<circle cx="269.15" cy="310.24" r="1.00" fill="#000"/>
<circle cx="293.45" cy="313.56" r="1.00" fill="#000"/>
<circle cx="317.74" cy="316.58" r="1.00" fill="#000"/>
<circle cx="342.04" cy="319.33" r="1.00" fill="#000"/>
<circle cx="366.33" cy="321.83" r="1.00" fill="#000"/>
<circle cx="390.62" cy="324.10" r="1.00" fill="#000"/>
<circle cx="414.92" cy="326.17" r="1.00" fill="#000"/>
<circle cx="439.22" cy="328.04" r="1.00" fill="#000"/>
<circle cx="463.51" cy="329.75" r="1.00" fill="#000"/>
<circle cx="487.81" cy="331.30" r="1.00" fill="#000"/>
<circle cx="512.10" cy="332.70" r="1.00" fill="#000"/>
<circle cx="26.20" cy="254.50" r="1.00" fill="#000"/>
<circle cx="50.50" cy="264.79" r="1.00" fill="#000"/>
<circle cx="74.79" cy="274.56" r="1.00" fill="#000"/>
<circle cx="99.09" cy="283.27" r="1.00" fill="#000"/>
<circle cx="123.38" cy="290.89" r="1.00" fill="#000"/>
<circle cx="147.68" cy="297.51" r="1.00" fill="#000"/>
<circle cx="171.97" cy="303.22" r="1.00" fill="#000"/>
<circle cx="196.26" cy="308.12" r="1.00" fill="#000"/>
<circle cx="220.56" cy="312.32" r="1.00" fill="#000"/>
<circle cx="244.86" cy="315.91" r="1.00" fill="#000"/>
<circle cx="269.15" cy="318.97" r="1.00" fill="#000"/>
<circle cx="293.45" cy="321.57" r="1.00" fill="#000"/>
<circle cx="317.74" cy="323.77" r="1.00" fill="#000"/>
<circle cx="342.04" cy="325.64" r="1.00" fill="#000"/>
<circle cx="366.33" cy="327.23" r="1.00" fill="#000"/>
<circle cx="390.62" cy="328.56" r="1.00" fill="#000"/>
<circle cx="414.92" cy="329.70" r="1.00" fill="#000"/>
<circle cx="439.22" cy="330.65" r="1.00" fill="#000"/>
<circle cx="463.51" cy="331.45" r="1.00" fill="#000"/>
<circle cx="487.81" cy="332.13" r="1.00" fill="#000"/>
<circle cx="512.10" cy="332.70" r="1.00" fill="#000"/>
<circle cx="26.20" cy="254.50" r="1.00" fill="#000"/>
<circle cx="50.50" cy="267.49" r="1.00" fill="#000"/>
<circle cx="74.79" cy="278.94" r="1.00" fill="#000"/>
<circle cx="99.09" cy="288.61" r="1.00" fill="#000"/>
<circle cx="123.38" cy="296.69" r="1.00" fill="#000"/>
<circle cx="147.68" cy="303.40" r="1.00" fill="#000"/>
<circle cx="171.97" cy="308.95" r="1.00" fill="#000"/>
<circle cx="196.26" cy="313.53" r="1.00" fill="#000"/>
<circle cx="220.56" cy="317.29" r="1.00" fill="#000"/>
<circle cx="244.86" cy="320.38" r="1.00" fill="#000"/>
<circle cx="269.15" cy="322.91" r="1.00" fill="#000"/>
<circle cx="293.45" cy="324.98" r="1.00" fill="#000"/>
<circle cx="317.74" cy="326.68" r="1.00" fill="#000"/>
<circle cx="342.04" cy="328.06" r="1.00" fill="#000"/>
<circle cx="366.33" cy="329.19" r="1.00" fill="#000"/>
<circle cx="390.62" cy="330.11" r="1.00" fill="#000"/>
<circle cx="414.92" cy="330.86" r="1.00" fill="#000"/>
<circle cx="439.22" cy="331.47" r="1.00" fill="#000"/>
<circle cx="463.51" cy="331.97" r="1.00" fill="#000"/>
<circle cx="487.81" cy="332.37" r="1.00" fill="#000"/>
<circle cx="512.10" cy="332.70" r="1.00" fill="#000"/>
<text transform="translate(269.20,354.70) scale(1.330,1.000)" font-size="6.70" text-anchor="middle">Inputs</text>
<text transform="translate(8.20,293.00) rotate(-90) scale(0.840,1.000)" font-size="9.00" text-anchor="middle">Numerical Values</text>
<rect x="63.1" y="356.7" width="419.9" height="23.2" fill="#fff" stroke="#1c1c1c" stroke-width="1.1"/>
<path d="M67.70 363.90H101.00" stroke="#ff0000" stroke-width="1.90"/><path d="M82.10 362.38L85.90 362.38L84.00 366.18Z" fill="#ff0000" stroke="#ff0000" stroke-width="2.30" stroke-linejoin="round"/>
<text transform="translate(103.00,366.40) scale(1.205,1.000)" font-size="7.40" text-anchor="start" stroke-width="0.15"><tspan font-family="'Liberation Serif','DejaVu Serif',serif" font-style="italic" font-size="6.8" fill="#707070" stroke="none">β</tspan><tspan dx="0.8"> = 1.5, </tspan><tspan font-family="'Liberation Serif','DejaVu Serif',serif" font-size="6.9" fill="#444" stroke="none">Ω</tspan><tspan dx="0.9"> = -0.2</tspan></text>
<path d="M67.70 373.70H101.00" stroke="#00ff00" stroke-width="1.90"/><path d="M82.10 372.18L85.90 372.18L84.00 375.98Z" fill="#00ff00" stroke="#00ff00" stroke-width="2.30" stroke-linejoin="round"/>
<text transform="translate(103.00,376.80) scale(1.205,1.000)" font-size="7.40" text-anchor="start" stroke-width="0.15"><tspan font-family="'Liberation Serif','DejaVu Serif',serif" font-style="italic" font-size="6.8" fill="#707070" stroke="none">β</tspan><tspan dx="0.8"> = 3.3, </tspan><tspan font-family="'Liberation Serif','DejaVu Serif',serif" font-size="6.9" fill="#444" stroke="none">Ω</tspan><tspan dx="0.9"> = -0.2</tspan></text>
<path d="M178.00 363.90H209.50" stroke="#0000ff" stroke-width="1.90"/><path d="M191.70 362.38L195.50 362.38L193.60 366.18Z" fill="#0000ff" stroke="#0000ff" stroke-width="2.30" stroke-linejoin="round"/>
<text transform="translate(212.00,366.40) scale(1.205,1.000)" font-size="7.40" text-anchor="start" stroke-width="0.15"><tspan font-family="'Liberation Serif','DejaVu Serif',serif" font-style="italic" font-size="6.8" fill="#707070" stroke="none">β</tspan><tspan dx="0.8"> = 4.45, </tspan><tspan font-family="'Liberation Serif','DejaVu Serif',serif" font-size="6.9" fill="#444" stroke="none">Ω</tspan><tspan dx="0.9"> = -0.2</tspan></text>
<path d="M178.00 373.70H209.50" stroke="#ff0000" stroke-width="1.90"/><circle cx="193.60" cy="373.70" r="2.70" fill="none" stroke="#ff0000" stroke-width="1.60"/>
<text transform="translate(212.00,376.80) scale(1.205,1.000)" font-size="7.40" text-anchor="start" stroke-width="0.15"><tspan font-family="'Liberation Serif','DejaVu Serif',serif" font-style="italic" font-size="6.8" fill="#707070" stroke="none">β</tspan><tspan dx="0.8"> = 1.5, </tspan><tspan font-family="'Liberation Serif','DejaVu Serif',serif" font-size="6.9" fill="#444" stroke="none">Ω</tspan><tspan dx="0.9"> = 0.2</tspan></text>
<path d="M292.80 363.90H325.00" stroke="#00ff00" stroke-width="1.90"/><circle cx="308.00" cy="363.90" r="2.70" fill="none" stroke="#00ff00" stroke-width="1.60"/>
<text transform="translate(327.70,366.40) scale(1.205,1.000)" font-size="7.40" text-anchor="start" stroke-width="0.15"><tspan font-family="'Liberation Serif','DejaVu Serif',serif" font-style="italic" font-size="6.8" fill="#707070" stroke="none">β</tspan><tspan dx="0.8"> = 3.3, </tspan><tspan font-family="'Liberation Serif','DejaVu Serif',serif" font-size="6.9" fill="#444" stroke="none">Ω</tspan><tspan dx="0.9"> = 0.2</tspan></text>
<path d="M292.80 373.70H325.00" stroke="#0000ff" stroke-width="1.90"/><circle cx="308.00" cy="373.70" r="2.70" fill="none" stroke="#0000ff" stroke-width="1.60"/>
<text transform="translate(327.70,376.80) scale(1.205,1.000)" font-size="7.40" text-anchor="start" stroke-width="0.15"><tspan font-family="'Liberation Serif','DejaVu Serif',serif" font-style="italic" font-size="6.8" fill="#707070" stroke="none">β</tspan><tspan dx="0.8"> = 4.45, </tspan><tspan font-family="'Liberation Serif','DejaVu Serif',serif" font-size="6.9" fill="#444" stroke="none">Ω</tspan><tspan dx="0.9"> = 0.2</tspan></text>
<circle cx="419.30" cy="363.90" r="1.15" fill="#000"/>
<text transform="translate(439.70,366.40) scale(1.220,1.000)" font-size="7.30" text-anchor="start" stroke-width="0.18">Numerical</text>
<text transform="translate(136.00,237.50) scale(1.030,1.000)" font-size="11.20" text-anchor="middle" font-family="'Liberation Serif',serif" fill="#111" stroke="#111" stroke-width="0.25">a)</text>
<text transform="translate(411.00,237.50) scale(1.080,1.000)" font-size="10.60" text-anchor="middle" font-family="'Liberation Serif',serif" fill="#111" stroke="#111" stroke-width="0.25">b)</text>
<text transform="translate(274.00,392.00)" font-size="11.50" text-anchor="middle" font-family="'Liberation Serif',serif" fill="#111" stroke="#111" stroke-width="0.25">c)</text>
</g>
</svg>
</body></html>
